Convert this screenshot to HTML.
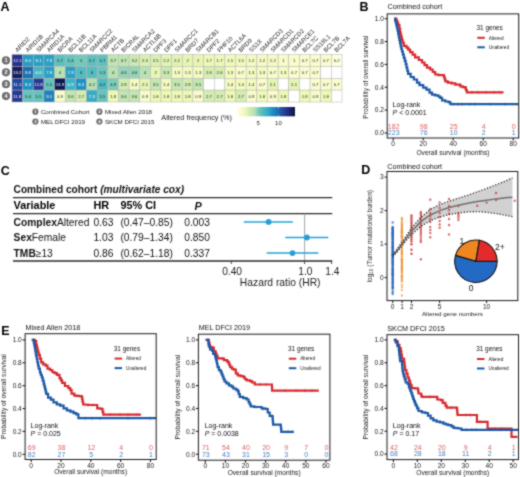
<!DOCTYPE html>
<html><head><meta charset="utf-8"><title>Figure</title>
<style>
html,body{margin:0;padding:0;background:#fff;}
svg{display:block;font-family:"Liberation Sans", sans-serif;}
</style></head>
<body>
<svg width="520" height="477" viewBox="0 0 520 477">
<defs><filter id="soft" color-interpolation-filters="sRGB" filterUnits="userSpaceOnUse" x="0" y="0" width="520" height="477"><feConvolveMatrix order="3" kernelMatrix="1 2 1 2 10 2 1 2 1" edgeMode="duplicate" preserveAlpha="false"/></filter></defs>
<rect width="520" height="477" fill="#fff"/>
<g filter="url(#soft)">
<rect width="520" height="477" fill="#fff"/>
<text x="0.50" y="10.80" font-size="12.5" font-weight="bold" fill="#000">A</text>
<text x="17.42" y="52.40" font-size="6.1" fill="#1e1e1e" transform="rotate(-45 17.42 52.40)">ARID2</text>
<text x="28.07" y="52.40" font-size="6.1" fill="#1e1e1e" transform="rotate(-45 28.07 52.40)">ARID1B</text>
<text x="38.71" y="52.40" font-size="6.1" fill="#1e1e1e" transform="rotate(-45 38.71 52.40)">SMARCA4</text>
<text x="49.36" y="52.40" font-size="6.1" fill="#1e1e1e" transform="rotate(-45 49.36 52.40)">ARID1A</text>
<text x="60.00" y="52.40" font-size="6.1" fill="#1e1e1e" transform="rotate(-45 60.00 52.40)">BICRA</text>
<text x="70.65" y="52.40" font-size="6.1" fill="#1e1e1e" transform="rotate(-45 70.65 52.40)">BCL11B</text>
<text x="81.29" y="52.40" font-size="6.1" fill="#1e1e1e" transform="rotate(-45 81.29 52.40)">BCL11A</text>
<text x="91.94" y="52.40" font-size="6.1" fill="#1e1e1e" transform="rotate(-45 91.94 52.40)">SMARCC2</text>
<text x="102.58" y="52.40" font-size="6.1" fill="#1e1e1e" transform="rotate(-45 102.58 52.40)">PBRM1</text>
<text x="113.23" y="52.40" font-size="6.1" fill="#1e1e1e" transform="rotate(-45 113.23 52.40)">ACTB</text>
<text x="123.87" y="52.40" font-size="6.1" fill="#1e1e1e" transform="rotate(-45 123.87 52.40)">BICRAL</text>
<text x="134.52" y="52.40" font-size="6.1" fill="#1e1e1e" transform="rotate(-45 134.52 52.40)">SMARCA2</text>
<text x="145.16" y="52.40" font-size="6.1" fill="#1e1e1e" transform="rotate(-45 145.16 52.40)">ACTL6B</text>
<text x="155.81" y="52.40" font-size="6.1" fill="#1e1e1e" transform="rotate(-45 155.81 52.40)">DPF3</text>
<text x="166.45" y="52.40" font-size="6.1" fill="#1e1e1e" transform="rotate(-45 166.45 52.40)">DPF1</text>
<text x="177.10" y="52.40" font-size="6.1" fill="#1e1e1e" transform="rotate(-45 177.10 52.40)">SMARCC1</text>
<text x="187.75" y="52.40" font-size="6.1" fill="#1e1e1e" transform="rotate(-45 187.75 52.40)">BRD7</text>
<text x="198.39" y="52.40" font-size="6.1" fill="#1e1e1e" transform="rotate(-45 198.39 52.40)">SMARCB1</text>
<text x="209.04" y="52.40" font-size="6.1" fill="#1e1e1e" transform="rotate(-45 209.04 52.40)">DPF2</text>
<text x="219.68" y="52.40" font-size="6.1" fill="#1e1e1e" transform="rotate(-45 219.68 52.40)">PHF10</text>
<text x="230.33" y="52.40" font-size="6.1" fill="#1e1e1e" transform="rotate(-45 230.33 52.40)">ACTL6A</text>
<text x="240.97" y="52.40" font-size="6.1" fill="#1e1e1e" transform="rotate(-45 240.97 52.40)">BRD9</text>
<text x="251.62" y="52.40" font-size="6.1" fill="#1e1e1e" transform="rotate(-45 251.62 52.40)">SS18</text>
<text x="262.26" y="52.40" font-size="6.1" fill="#1e1e1e" transform="rotate(-45 262.26 52.40)">SMARCD3</text>
<text x="272.91" y="52.40" font-size="6.1" fill="#1e1e1e" transform="rotate(-45 272.91 52.40)">SMARCD1</text>
<text x="283.55" y="52.40" font-size="6.1" fill="#1e1e1e" transform="rotate(-45 283.55 52.40)">SMARCD2</text>
<text x="294.20" y="52.40" font-size="6.1" fill="#1e1e1e" transform="rotate(-45 294.20 52.40)">SMARCE1</text>
<text x="304.84" y="52.40" font-size="6.1" fill="#1e1e1e" transform="rotate(-45 304.84 52.40)">BCL7C</text>
<text x="315.49" y="52.40" font-size="6.1" fill="#1e1e1e" transform="rotate(-45 315.49 52.40)">SS18L1</text>
<text x="326.13" y="52.40" font-size="6.1" fill="#1e1e1e" transform="rotate(-45 326.13 52.40)">BCL7B</text>
<text x="336.78" y="52.40" font-size="6.1" fill="#1e1e1e" transform="rotate(-45 336.78 52.40)">BCL7A</text>
<rect x="12.00" y="54.50" width="10.65" height="11.88" fill="#28318b" stroke="#b4b4b4" stroke-width="0.5"/>
<text x="17.32" y="61.99" font-size="4.3" text-anchor="middle" fill="#ffffff">12.1</text>
<rect x="22.65" y="54.50" width="10.65" height="11.88" fill="#2a9cc2" stroke="#b4b4b4" stroke-width="0.5"/>
<text x="27.97" y="61.99" font-size="4.3" text-anchor="middle" fill="#ffffff">9.4</text>
<rect x="33.29" y="54.50" width="10.65" height="11.88" fill="#2b9fc3" stroke="#b4b4b4" stroke-width="0.5"/>
<text x="38.61" y="61.99" font-size="4.3" text-anchor="middle" fill="#ffffff">9.1</text>
<rect x="43.94" y="54.50" width="10.65" height="11.88" fill="#2ba0c5" stroke="#b4b4b4" stroke-width="0.5"/>
<text x="49.26" y="61.99" font-size="4.3" text-anchor="middle" fill="#ffffff">7.9</text>
<rect x="54.58" y="54.50" width="10.65" height="11.88" fill="#5fc0be" stroke="#b4b4b4" stroke-width="0.5"/>
<text x="59.90" y="61.99" font-size="4.3" text-anchor="middle" fill="#1c2816">5.7</text>
<rect x="65.23" y="54.50" width="10.65" height="11.88" fill="#68c4bd" stroke="#b4b4b4" stroke-width="0.5"/>
<text x="70.55" y="61.99" font-size="4.3" text-anchor="middle" fill="#1c2816">5.4</text>
<rect x="75.87" y="54.50" width="10.65" height="11.88" fill="#74c9bb" stroke="#b4b4b4" stroke-width="0.5"/>
<text x="81.19" y="61.99" font-size="4.3" text-anchor="middle" fill="#1c2816">5</text>
<rect x="86.52" y="54.50" width="10.65" height="11.88" fill="#5fc0be" stroke="#b4b4b4" stroke-width="0.5"/>
<text x="91.84" y="61.99" font-size="4.3" text-anchor="middle" fill="#1c2816">5.7</text>
<rect x="97.16" y="54.50" width="10.65" height="11.88" fill="#5fc0be" stroke="#b4b4b4" stroke-width="0.5"/>
<text x="102.48" y="61.99" font-size="4.3" text-anchor="middle" fill="#1c2816">5.7</text>
<rect x="107.81" y="54.50" width="10.65" height="11.88" fill="#c0e4b3" stroke="#b4b4b4" stroke-width="0.5"/>
<text x="113.13" y="61.99" font-size="4.3" text-anchor="middle" fill="#1c2816">3.7</text>
<rect x="118.45" y="54.50" width="10.65" height="11.88" fill="#c0e4b3" stroke="#b4b4b4" stroke-width="0.5"/>
<text x="123.77" y="61.99" font-size="4.3" text-anchor="middle" fill="#1c2816">3.7</text>
<rect x="129.10" y="54.50" width="10.65" height="11.88" fill="#cae9b3" stroke="#b4b4b4" stroke-width="0.5"/>
<text x="134.42" y="61.99" font-size="4.3" text-anchor="middle" fill="#1c2816">3.2</text>
<rect x="139.74" y="54.50" width="10.65" height="11.88" fill="#daefb3" stroke="#b4b4b4" stroke-width="0.5"/>
<text x="145.06" y="61.99" font-size="4.3" text-anchor="middle" fill="#1c2816">2.5</text>
<rect x="150.39" y="54.50" width="10.65" height="11.88" fill="#daefb3" stroke="#b4b4b4" stroke-width="0.5"/>
<text x="155.71" y="61.99" font-size="4.3" text-anchor="middle" fill="#1c2816">2.5</text>
<rect x="161.03" y="54.50" width="10.65" height="11.88" fill="#e2f3b4" stroke="#b4b4b4" stroke-width="0.5"/>
<text x="166.35" y="61.99" font-size="4.3" text-anchor="middle" fill="#1c2816">2.2</text>
<rect x="171.68" y="54.50" width="10.65" height="11.88" fill="#e2f3b4" stroke="#b4b4b4" stroke-width="0.5"/>
<text x="177.00" y="61.99" font-size="4.3" text-anchor="middle" fill="#1c2816">2.2</text>
<rect x="182.32" y="54.50" width="10.65" height="11.88" fill="#e8f6b5" stroke="#b4b4b4" stroke-width="0.5"/>
<text x="187.65" y="61.99" font-size="4.3" text-anchor="middle" fill="#1c2816">2</text>
<rect x="192.97" y="54.50" width="10.65" height="11.88" fill="#e8f6b5" stroke="#b4b4b4" stroke-width="0.5"/>
<text x="198.29" y="61.99" font-size="4.3" text-anchor="middle" fill="#1c2816">2</text>
<rect x="203.61" y="54.50" width="10.65" height="11.88" fill="#eff8b8" stroke="#b4b4b4" stroke-width="0.5"/>
<text x="208.94" y="61.99" font-size="4.3" text-anchor="middle" fill="#1c2816">1.7</text>
<rect x="214.26" y="54.50" width="10.65" height="11.88" fill="#eff8b8" stroke="#b4b4b4" stroke-width="0.5"/>
<text x="219.58" y="61.99" font-size="4.3" text-anchor="middle" fill="#1c2816">1.7</text>
<rect x="224.90" y="54.50" width="10.65" height="11.88" fill="#f2f9bd" stroke="#b4b4b4" stroke-width="0.5"/>
<text x="230.23" y="61.99" font-size="4.3" text-anchor="middle" fill="#1c2816">1.5</text>
<rect x="235.55" y="54.50" width="10.65" height="11.88" fill="#f2f9bd" stroke="#b4b4b4" stroke-width="0.5"/>
<text x="240.87" y="61.99" font-size="4.3" text-anchor="middle" fill="#1c2816">1.5</text>
<rect x="246.19" y="54.50" width="10.65" height="11.88" fill="#f5fac5" stroke="#b4b4b4" stroke-width="0.5"/>
<text x="251.52" y="61.99" font-size="4.3" text-anchor="middle" fill="#1c2816">1.2</text>
<rect x="256.84" y="54.50" width="10.65" height="11.88" fill="#f5fac5" stroke="#b4b4b4" stroke-width="0.5"/>
<text x="262.16" y="61.99" font-size="4.3" text-anchor="middle" fill="#1c2816">1.2</text>
<rect x="267.48" y="54.50" width="10.65" height="11.88" fill="#f5fac5" stroke="#b4b4b4" stroke-width="0.5"/>
<text x="272.81" y="61.99" font-size="4.3" text-anchor="middle" fill="#1c2816">1.2</text>
<rect x="278.13" y="54.50" width="10.65" height="11.88" fill="#f8fbca" stroke="#b4b4b4" stroke-width="0.5"/>
<text x="283.45" y="61.99" font-size="4.3" text-anchor="middle" fill="#1c2816">1</text>
<rect x="288.77" y="54.50" width="10.65" height="11.88" fill="#f8fbca" stroke="#b4b4b4" stroke-width="0.5"/>
<text x="294.10" y="61.99" font-size="4.3" text-anchor="middle" fill="#1c2816">1</text>
<rect x="299.42" y="54.50" width="10.65" height="11.88" fill="#fafcd0" stroke="#b4b4b4" stroke-width="0.5"/>
<text x="304.74" y="61.99" font-size="4.3" text-anchor="middle" fill="#1c2816">0.7</text>
<rect x="310.06" y="54.50" width="10.65" height="11.88" fill="#fafcd0" stroke="#b4b4b4" stroke-width="0.5"/>
<text x="315.39" y="61.99" font-size="4.3" text-anchor="middle" fill="#1c2816">0.7</text>
<rect x="320.71" y="54.50" width="10.65" height="11.88" fill="#fafcd0" stroke="#b4b4b4" stroke-width="0.5"/>
<text x="326.03" y="61.99" font-size="4.3" text-anchor="middle" fill="#1c2816">0.7</text>
<rect x="331.35" y="54.50" width="10.65" height="11.88" fill="#fefedc" stroke="#b4b4b4" stroke-width="0.5"/>
<text x="336.68" y="61.99" font-size="4.3" text-anchor="middle" fill="#1c2816">0.2</text>
<rect x="12.00" y="66.38" width="10.65" height="11.88" fill="#18205c" stroke="#b4b4b4" stroke-width="0.5"/>
<text x="17.32" y="73.86" font-size="4.3" text-anchor="middle" fill="#ffffff">13.2</text>
<rect x="22.65" y="66.38" width="10.65" height="11.88" fill="#2170b2" stroke="#b4b4b4" stroke-width="0.5"/>
<text x="27.97" y="73.86" font-size="4.3" text-anchor="middle" fill="#ffffff">9.8</text>
<rect x="33.29" y="66.38" width="10.65" height="11.88" fill="#46b5c2" stroke="#b4b4b4" stroke-width="0.5"/>
<text x="38.61" y="73.86" font-size="4.3" text-anchor="middle" fill="#ffffff">6.6</text>
<rect x="43.94" y="66.38" width="10.65" height="11.88" fill="#2ba0c5" stroke="#b4b4b4" stroke-width="0.5"/>
<text x="49.26" y="73.86" font-size="4.3" text-anchor="middle" fill="#ffffff">7.9</text>
<rect x="54.58" y="66.38" width="10.65" height="11.88" fill="#b9e2b4" stroke="#b4b4b4" stroke-width="0.5"/>
<text x="59.90" y="73.86" font-size="4.3" text-anchor="middle" fill="#1c2816">4</text>
<rect x="65.23" y="66.38" width="10.65" height="11.88" fill="#2ba0c5" stroke="#b4b4b4" stroke-width="0.5"/>
<text x="70.55" y="73.86" font-size="4.3" text-anchor="middle" fill="#ffffff">7.9</text>
<rect x="75.87" y="66.38" width="10.65" height="11.88" fill="#55bcbf" stroke="#b4b4b4" stroke-width="0.5"/>
<text x="81.19" y="73.86" font-size="4.3" text-anchor="middle" fill="#1c2816">6</text>
<rect x="86.52" y="66.38" width="10.65" height="11.88" fill="#55bcbf" stroke="#b4b4b4" stroke-width="0.5"/>
<text x="91.84" y="73.86" font-size="4.3" text-anchor="middle" fill="#1c2816">6</text>
<rect x="97.16" y="66.38" width="10.65" height="11.88" fill="#6bc5bc" stroke="#b4b4b4" stroke-width="0.5"/>
<text x="102.48" y="73.86" font-size="4.3" text-anchor="middle" fill="#1c2816">5.3</text>
<rect x="107.81" y="66.38" width="10.65" height="11.88" fill="#b9e2b4" stroke="#b4b4b4" stroke-width="0.5"/>
<text x="113.13" y="73.86" font-size="4.3" text-anchor="middle" fill="#1c2816">4</text>
<rect x="118.45" y="66.38" width="10.65" height="11.88" fill="#95d4b8" stroke="#b4b4b4" stroke-width="0.5"/>
<text x="123.77" y="73.86" font-size="4.3" text-anchor="middle" fill="#1c2816">4.6</text>
<rect x="129.10" y="66.38" width="10.65" height="11.88" fill="#95d4b8" stroke="#b4b4b4" stroke-width="0.5"/>
<text x="134.42" y="73.86" font-size="4.3" text-anchor="middle" fill="#1c2816">4.6</text>
<rect x="139.74" y="66.38" width="10.65" height="11.88" fill="#b9e2b4" stroke="#b4b4b4" stroke-width="0.5"/>
<text x="145.06" y="73.86" font-size="4.3" text-anchor="middle" fill="#1c2816">4</text>
<rect x="150.39" y="66.38" width="10.65" height="11.88" fill="#e8f6b5" stroke="#b4b4b4" stroke-width="0.5"/>
<text x="155.71" y="73.86" font-size="4.3" text-anchor="middle" fill="#1c2816">2</text>
<rect x="161.03" y="66.38" width="10.65" height="11.88" fill="#c8e8b3" stroke="#b4b4b4" stroke-width="0.5"/>
<text x="166.35" y="73.86" font-size="4.3" text-anchor="middle" fill="#1c2816">3.3</text>
<rect x="171.68" y="66.38" width="10.65" height="11.88" fill="#f4fac2" stroke="#b4b4b4" stroke-width="0.5"/>
<text x="177.00" y="73.86" font-size="4.3" text-anchor="middle" fill="#1c2816">1.3</text>
<rect x="182.32" y="66.38" width="10.65" height="11.88" fill="#f4fac2" stroke="#b4b4b4" stroke-width="0.5"/>
<text x="187.65" y="73.86" font-size="4.3" text-anchor="middle" fill="#1c2816">1.3</text>
<rect x="192.97" y="66.38" width="10.65" height="11.88" fill="#f4fac2" stroke="#b4b4b4" stroke-width="0.5"/>
<text x="198.29" y="73.86" font-size="4.3" text-anchor="middle" fill="#1c2816">1.3</text>
<rect x="203.61" y="66.38" width="10.65" height="11.88" fill="#d7eeb2" stroke="#b4b4b4" stroke-width="0.5"/>
<text x="208.94" y="73.86" font-size="4.3" text-anchor="middle" fill="#1c2816">2.6</text>
<rect x="214.26" y="66.38" width="10.65" height="11.88" fill="#d7eeb2" stroke="#b4b4b4" stroke-width="0.5"/>
<text x="219.58" y="73.86" font-size="4.3" text-anchor="middle" fill="#1c2816">2.6</text>
<rect x="224.90" y="66.38" width="10.65" height="11.88" fill="#f4fac2" stroke="#b4b4b4" stroke-width="0.5"/>
<text x="230.23" y="73.86" font-size="4.3" text-anchor="middle" fill="#1c2816">1.3</text>
<rect x="235.55" y="66.38" width="10.65" height="11.88" fill="#fafcd0" stroke="#b4b4b4" stroke-width="0.5"/>
<text x="240.87" y="73.86" font-size="4.3" text-anchor="middle" fill="#1c2816">0.7</text>
<rect x="246.19" y="66.38" width="10.65" height="11.88" fill="#f4fac2" stroke="#b4b4b4" stroke-width="0.5"/>
<text x="251.52" y="73.86" font-size="4.3" text-anchor="middle" fill="#1c2816">1.3</text>
<rect x="256.84" y="66.38" width="10.65" height="11.88" fill="#f4fac2" stroke="#b4b4b4" stroke-width="0.5"/>
<text x="262.16" y="73.86" font-size="4.3" text-anchor="middle" fill="#1c2816">1.3</text>
<rect x="267.48" y="66.38" width="10.65" height="11.88" fill="#fafcd0" stroke="#b4b4b4" stroke-width="0.5"/>
<text x="272.81" y="73.86" font-size="4.3" text-anchor="middle" fill="#1c2816">0.7</text>
<rect x="278.13" y="66.38" width="10.65" height="11.88" fill="#f4fac2" stroke="#b4b4b4" stroke-width="0.5"/>
<text x="283.45" y="73.86" font-size="4.3" text-anchor="middle" fill="#1c2816">1.3</text>
<rect x="288.77" y="66.38" width="10.65" height="11.88" fill="#fafcd0" stroke="#b4b4b4" stroke-width="0.5"/>
<text x="294.10" y="73.86" font-size="4.3" text-anchor="middle" fill="#1c2816">0.7</text>
<rect x="299.42" y="66.38" width="10.65" height="11.88" fill="#fafcd0" stroke="#b4b4b4" stroke-width="0.5"/>
<text x="304.74" y="73.86" font-size="4.3" text-anchor="middle" fill="#1c2816">0.7</text>
<rect x="310.06" y="66.38" width="10.65" height="11.88" fill="#fafcd0" stroke="#b4b4b4" stroke-width="0.5"/>
<text x="315.39" y="73.86" font-size="4.3" text-anchor="middle" fill="#1c2816">0.7</text>
<rect x="320.71" y="66.38" width="10.65" height="11.88" fill="#ffffff" stroke="#b4b4b4" stroke-width="0.5"/>
<rect x="331.35" y="66.38" width="10.65" height="11.88" fill="#ffffff" stroke="#b4b4b4" stroke-width="0.5"/>
<rect x="12.00" y="78.25" width="10.65" height="11.88" fill="#25489e" stroke="#b4b4b4" stroke-width="0.5"/>
<text x="17.32" y="85.74" font-size="4.3" text-anchor="middle" fill="#ffffff">11.1</text>
<rect x="22.65" y="78.25" width="10.65" height="11.88" fill="#2092c2" stroke="#b4b4b4" stroke-width="0.5"/>
<text x="27.97" y="85.74" font-size="4.3" text-anchor="middle" fill="#ffffff">8.3</text>
<rect x="33.29" y="78.25" width="10.65" height="11.88" fill="#283792" stroke="#b4b4b4" stroke-width="0.5"/>
<text x="38.61" y="85.74" font-size="4.3" text-anchor="middle" fill="#ffffff">11.8</text>
<rect x="43.94" y="78.25" width="10.65" height="11.88" fill="#65c3bd" stroke="#b4b4b4" stroke-width="0.5"/>
<text x="49.26" y="85.74" font-size="4.3" text-anchor="middle" fill="#1c2816">5.5</text>
<rect x="54.58" y="78.25" width="10.65" height="11.88" fill="#0c1a4f" stroke="#b4b4b4" stroke-width="0.5"/>
<text x="59.90" y="85.74" font-size="4.3" text-anchor="middle" fill="#ffffff">13.9</text>
<rect x="65.23" y="78.25" width="10.65" height="11.88" fill="#3fb2c3" stroke="#b4b4b4" stroke-width="0.5"/>
<text x="70.55" y="85.74" font-size="4.3" text-anchor="middle" fill="#ffffff">6.9</text>
<rect x="75.87" y="78.25" width="10.65" height="11.88" fill="#2092c2" stroke="#b4b4b4" stroke-width="0.5"/>
<text x="81.19" y="85.74" font-size="4.3" text-anchor="middle" fill="#ffffff">8.3</text>
<rect x="86.52" y="78.25" width="10.65" height="11.88" fill="#b5e0b4" stroke="#b4b4b4" stroke-width="0.5"/>
<text x="91.84" y="85.74" font-size="4.3" text-anchor="middle" fill="#1c2816">4.2</text>
<rect x="97.16" y="78.25" width="10.65" height="11.88" fill="#50bac0" stroke="#b4b4b4" stroke-width="0.5"/>
<text x="102.48" y="85.74" font-size="4.3" text-anchor="middle" fill="#1c2816">6.2</text>
<rect x="107.81" y="78.25" width="10.65" height="11.88" fill="#7cccba" stroke="#b4b4b4" stroke-width="0.5"/>
<text x="113.13" y="85.74" font-size="4.3" text-anchor="middle" fill="#1c2816">4.9</text>
<rect x="118.45" y="78.25" width="10.65" height="11.88" fill="#d2ecb2" stroke="#b4b4b4" stroke-width="0.5"/>
<text x="123.77" y="85.74" font-size="4.3" text-anchor="middle" fill="#1c2816">2.8</text>
<rect x="129.10" y="78.25" width="10.65" height="11.88" fill="#f3f9c0" stroke="#b4b4b4" stroke-width="0.5"/>
<text x="134.42" y="85.74" font-size="4.3" text-anchor="middle" fill="#1c2816">1.4</text>
<rect x="139.74" y="78.25" width="10.65" height="11.88" fill="#e5f4b5" stroke="#b4b4b4" stroke-width="0.5"/>
<text x="145.06" y="85.74" font-size="4.3" text-anchor="middle" fill="#1c2816">2.1</text>
<rect x="150.39" y="78.25" width="10.65" height="11.88" fill="#c4e6b3" stroke="#b4b4b4" stroke-width="0.5"/>
<text x="155.71" y="85.74" font-size="4.3" text-anchor="middle" fill="#1c2816">3.5</text>
<rect x="161.03" y="78.25" width="10.65" height="11.88" fill="#f3f9c0" stroke="#b4b4b4" stroke-width="0.5"/>
<text x="166.35" y="85.74" font-size="4.3" text-anchor="middle" fill="#1c2816">1.4</text>
<rect x="171.68" y="78.25" width="10.65" height="11.88" fill="#c4e6b3" stroke="#b4b4b4" stroke-width="0.5"/>
<text x="177.00" y="85.74" font-size="4.3" text-anchor="middle" fill="#1c2816">3.5</text>
<rect x="182.32" y="78.25" width="10.65" height="11.88" fill="#d2ecb2" stroke="#b4b4b4" stroke-width="0.5"/>
<text x="187.65" y="85.74" font-size="4.3" text-anchor="middle" fill="#1c2816">2.8</text>
<rect x="192.97" y="78.25" width="10.65" height="11.88" fill="#c4e6b3" stroke="#b4b4b4" stroke-width="0.5"/>
<text x="198.29" y="85.74" font-size="4.3" text-anchor="middle" fill="#1c2816">3.5</text>
<rect x="203.61" y="78.25" width="10.65" height="11.88" fill="#ffffff" stroke="#b4b4b4" stroke-width="0.5"/>
<rect x="214.26" y="78.25" width="10.65" height="11.88" fill="#ffffff" stroke="#b4b4b4" stroke-width="0.5"/>
<rect x="224.90" y="78.25" width="10.65" height="11.88" fill="#f3f9c0" stroke="#b4b4b4" stroke-width="0.5"/>
<text x="230.23" y="85.74" font-size="4.3" text-anchor="middle" fill="#1c2816">1.4</text>
<rect x="235.55" y="78.25" width="10.65" height="11.88" fill="#f3f9c0" stroke="#b4b4b4" stroke-width="0.5"/>
<text x="240.87" y="85.74" font-size="4.3" text-anchor="middle" fill="#1c2816">1.4</text>
<rect x="246.19" y="78.25" width="10.65" height="11.88" fill="#f3f9c0" stroke="#b4b4b4" stroke-width="0.5"/>
<text x="251.52" y="85.74" font-size="4.3" text-anchor="middle" fill="#1c2816">1.4</text>
<rect x="256.84" y="78.25" width="10.65" height="11.88" fill="#fafcd0" stroke="#b4b4b4" stroke-width="0.5"/>
<text x="262.16" y="85.74" font-size="4.3" text-anchor="middle" fill="#1c2816">0.7</text>
<rect x="267.48" y="78.25" width="10.65" height="11.88" fill="#e5f4b5" stroke="#b4b4b4" stroke-width="0.5"/>
<text x="272.81" y="85.74" font-size="4.3" text-anchor="middle" fill="#1c2816">2.1</text>
<rect x="278.13" y="78.25" width="10.65" height="11.88" fill="#ffffff" stroke="#b4b4b4" stroke-width="0.5"/>
<rect x="288.77" y="78.25" width="10.65" height="11.88" fill="#e5f4b5" stroke="#b4b4b4" stroke-width="0.5"/>
<text x="294.10" y="85.74" font-size="4.3" text-anchor="middle" fill="#1c2816">2.1</text>
<rect x="299.42" y="78.25" width="10.65" height="11.88" fill="#ffffff" stroke="#b4b4b4" stroke-width="0.5"/>
<rect x="310.06" y="78.25" width="10.65" height="11.88" fill="#fafcd0" stroke="#b4b4b4" stroke-width="0.5"/>
<text x="315.39" y="85.74" font-size="4.3" text-anchor="middle" fill="#1c2816">0.7</text>
<rect x="320.71" y="78.25" width="10.65" height="11.88" fill="#fafcd0" stroke="#b4b4b4" stroke-width="0.5"/>
<text x="326.03" y="85.74" font-size="4.3" text-anchor="middle" fill="#1c2816">0.7</text>
<rect x="331.35" y="78.25" width="10.65" height="11.88" fill="#fafcd0" stroke="#b4b4b4" stroke-width="0.5"/>
<text x="336.68" y="85.74" font-size="4.3" text-anchor="middle" fill="#1c2816">0.7</text>
<rect x="12.00" y="90.12" width="10.65" height="11.88" fill="#283792" stroke="#b4b4b4" stroke-width="0.5"/>
<text x="17.32" y="97.61" font-size="4.3" text-anchor="middle" fill="#ffffff">11.8</text>
<rect x="22.65" y="90.12" width="10.65" height="11.88" fill="#68c4bd" stroke="#b4b4b4" stroke-width="0.5"/>
<text x="27.97" y="97.61" font-size="4.3" text-anchor="middle" fill="#1c2816">5.4</text>
<rect x="33.29" y="90.12" width="10.65" height="11.88" fill="#65c3bd" stroke="#b4b4b4" stroke-width="0.5"/>
<text x="38.61" y="97.61" font-size="4.3" text-anchor="middle" fill="#1c2816">5.5</text>
<rect x="43.94" y="90.12" width="10.65" height="11.88" fill="#1f82bb" stroke="#b4b4b4" stroke-width="0.5"/>
<text x="49.26" y="97.61" font-size="4.3" text-anchor="middle" fill="#ffffff">9.1</text>
<rect x="54.58" y="90.12" width="10.65" height="11.88" fill="#f9fbcc" stroke="#b4b4b4" stroke-width="0.5"/>
<text x="59.90" y="97.61" font-size="4.3" text-anchor="middle" fill="#1c2816">0.9</text>
<rect x="65.23" y="90.12" width="10.65" height="11.88" fill="#c2e5b3" stroke="#b4b4b4" stroke-width="0.5"/>
<text x="70.55" y="97.61" font-size="4.3" text-anchor="middle" fill="#1c2816">3.6</text>
<rect x="75.87" y="90.12" width="10.65" height="11.88" fill="#d4edb2" stroke="#b4b4b4" stroke-width="0.5"/>
<text x="81.19" y="97.61" font-size="4.3" text-anchor="middle" fill="#1c2816">2.7</text>
<rect x="86.52" y="90.12" width="10.65" height="11.88" fill="#37abc4" stroke="#b4b4b4" stroke-width="0.5"/>
<text x="91.84" y="97.61" font-size="4.3" text-anchor="middle" fill="#ffffff">7.3</text>
<rect x="97.16" y="90.12" width="10.65" height="11.88" fill="#65c3bd" stroke="#b4b4b4" stroke-width="0.5"/>
<text x="102.48" y="97.61" font-size="4.3" text-anchor="middle" fill="#1c2816">5.5</text>
<rect x="107.81" y="90.12" width="10.65" height="11.88" fill="#eef8b6" stroke="#b4b4b4" stroke-width="0.5"/>
<text x="113.13" y="97.61" font-size="4.3" text-anchor="middle" fill="#1c2816">1.8</text>
<rect x="118.45" y="90.12" width="10.65" height="11.88" fill="#c2e5b3" stroke="#b4b4b4" stroke-width="0.5"/>
<text x="123.77" y="97.61" font-size="4.3" text-anchor="middle" fill="#1c2816">3.6</text>
<rect x="129.10" y="90.12" width="10.65" height="11.88" fill="#c2e5b3" stroke="#b4b4b4" stroke-width="0.5"/>
<text x="134.42" y="97.61" font-size="4.3" text-anchor="middle" fill="#1c2816">3.6</text>
<rect x="139.74" y="90.12" width="10.65" height="11.88" fill="#f9fbcc" stroke="#b4b4b4" stroke-width="0.5"/>
<text x="145.06" y="97.61" font-size="4.3" text-anchor="middle" fill="#1c2816">0.9</text>
<rect x="150.39" y="90.12" width="10.65" height="11.88" fill="#eef8b6" stroke="#b4b4b4" stroke-width="0.5"/>
<text x="155.71" y="97.61" font-size="4.3" text-anchor="middle" fill="#1c2816">1.8</text>
<rect x="161.03" y="90.12" width="10.65" height="11.88" fill="#eef8b6" stroke="#b4b4b4" stroke-width="0.5"/>
<text x="166.35" y="97.61" font-size="4.3" text-anchor="middle" fill="#1c2816">1.8</text>
<rect x="171.68" y="90.12" width="10.65" height="11.88" fill="#eef8b6" stroke="#b4b4b4" stroke-width="0.5"/>
<text x="177.00" y="97.61" font-size="4.3" text-anchor="middle" fill="#1c2816">1.8</text>
<rect x="182.32" y="90.12" width="10.65" height="11.88" fill="#eef8b6" stroke="#b4b4b4" stroke-width="0.5"/>
<text x="187.65" y="97.61" font-size="4.3" text-anchor="middle" fill="#1c2816">1.8</text>
<rect x="192.97" y="90.12" width="10.65" height="11.88" fill="#f9fbcc" stroke="#b4b4b4" stroke-width="0.5"/>
<text x="198.29" y="97.61" font-size="4.3" text-anchor="middle" fill="#1c2816">0.9</text>
<rect x="203.61" y="90.12" width="10.65" height="11.88" fill="#d4edb2" stroke="#b4b4b4" stroke-width="0.5"/>
<text x="208.94" y="97.61" font-size="4.3" text-anchor="middle" fill="#1c2816">2.7</text>
<rect x="214.26" y="90.12" width="10.65" height="11.88" fill="#d4edb2" stroke="#b4b4b4" stroke-width="0.5"/>
<text x="219.58" y="97.61" font-size="4.3" text-anchor="middle" fill="#1c2816">2.7</text>
<rect x="224.90" y="90.12" width="10.65" height="11.88" fill="#eef8b6" stroke="#b4b4b4" stroke-width="0.5"/>
<text x="230.23" y="97.61" font-size="4.3" text-anchor="middle" fill="#1c2816">1.8</text>
<rect x="235.55" y="90.12" width="10.65" height="11.88" fill="#d4edb2" stroke="#b4b4b4" stroke-width="0.5"/>
<text x="240.87" y="97.61" font-size="4.3" text-anchor="middle" fill="#1c2816">2.7</text>
<rect x="246.19" y="90.12" width="10.65" height="11.88" fill="#f9fbcc" stroke="#b4b4b4" stroke-width="0.5"/>
<text x="251.52" y="97.61" font-size="4.3" text-anchor="middle" fill="#1c2816">0.9</text>
<rect x="256.84" y="90.12" width="10.65" height="11.88" fill="#eef8b6" stroke="#b4b4b4" stroke-width="0.5"/>
<text x="262.16" y="97.61" font-size="4.3" text-anchor="middle" fill="#1c2816">1.8</text>
<rect x="267.48" y="90.12" width="10.65" height="11.88" fill="#f9fbcc" stroke="#b4b4b4" stroke-width="0.5"/>
<text x="272.81" y="97.61" font-size="4.3" text-anchor="middle" fill="#1c2816">0.9</text>
<rect x="278.13" y="90.12" width="10.65" height="11.88" fill="#eef8b6" stroke="#b4b4b4" stroke-width="0.5"/>
<text x="283.45" y="97.61" font-size="4.3" text-anchor="middle" fill="#1c2816">1.8</text>
<rect x="288.77" y="90.12" width="10.65" height="11.88" fill="#ffffff" stroke="#b4b4b4" stroke-width="0.5"/>
<rect x="299.42" y="90.12" width="10.65" height="11.88" fill="#eef8b6" stroke="#b4b4b4" stroke-width="0.5"/>
<text x="304.74" y="97.61" font-size="4.3" text-anchor="middle" fill="#1c2816">1.8</text>
<rect x="310.06" y="90.12" width="10.65" height="11.88" fill="#f9fbcc" stroke="#b4b4b4" stroke-width="0.5"/>
<text x="315.39" y="97.61" font-size="4.3" text-anchor="middle" fill="#1c2816">0.9</text>
<rect x="320.71" y="90.12" width="10.65" height="11.88" fill="#eef8b6" stroke="#b4b4b4" stroke-width="0.5"/>
<text x="326.03" y="97.61" font-size="4.3" text-anchor="middle" fill="#1c2816">1.8</text>
<rect x="331.35" y="90.12" width="10.65" height="11.88" fill="#ffffff" stroke="#b4b4b4" stroke-width="0.5"/>
<circle cx="6" cy="60.44" r="4.1" fill="#6e6e6e"/>
<text x="6.00" y="62.44" font-size="5.6" font-weight="bold" text-anchor="middle" fill="#fff">1</text>
<circle cx="6" cy="72.31" r="4.1" fill="#6e6e6e"/>
<text x="6.00" y="74.31" font-size="5.6" font-weight="bold" text-anchor="middle" fill="#fff">2</text>
<circle cx="6" cy="84.19" r="4.1" fill="#6e6e6e"/>
<text x="6.00" y="86.19" font-size="5.6" font-weight="bold" text-anchor="middle" fill="#fff">3</text>
<circle cx="6" cy="96.06" r="4.1" fill="#6e6e6e"/>
<text x="6.00" y="98.06" font-size="5.6" font-weight="bold" text-anchor="middle" fill="#fff">4</text>
<circle cx="35.4" cy="111.7" r="3.1" fill="#6e6e6e"/>
<text x="35.40" y="113.20" font-size="4.3" font-weight="bold" text-anchor="middle" fill="#fff">1</text>
<text x="40.90" y="113.85" font-size="6.2" fill="#1a1a1a">Combined Cohort</text>
<circle cx="99.4" cy="111.7" r="3.1" fill="#6e6e6e"/>
<text x="99.40" y="113.20" font-size="4.3" font-weight="bold" text-anchor="middle" fill="#fff">2</text>
<text x="104.90" y="113.85" font-size="6.2" fill="#1a1a1a">Mixed Allen 2018</text>
<circle cx="35.4" cy="121.5" r="3.1" fill="#6e6e6e"/>
<text x="35.40" y="123.00" font-size="4.3" font-weight="bold" text-anchor="middle" fill="#fff">3</text>
<text x="40.90" y="123.65" font-size="6.2" fill="#1a1a1a">MEL DFCI 2019</text>
<circle cx="99.4" cy="121.5" r="3.1" fill="#6e6e6e"/>
<text x="99.40" y="123.00" font-size="4.3" font-weight="bold" text-anchor="middle" fill="#fff">4</text>
<text x="104.90" y="123.65" font-size="6.2" fill="#1a1a1a">SKCM DFCI 2015</text>
<text x="161.30" y="119.60" font-size="7.3" fill="#1a1a1a">Altered frequency (%)</text>
<defs><linearGradient id="cb" x1="0" x2="1" y1="0" y2="0"><stop offset="0.0000" stop-color="#ffffe0"/><stop offset="0.0638" stop-color="#f9fbcc"/><stop offset="0.1277" stop-color="#eef8b6"/><stop offset="0.1915" stop-color="#d4edb2"/><stop offset="0.2553" stop-color="#c2e5b3"/><stop offset="0.2979" stop-color="#b5e0b4"/><stop offset="0.3546" stop-color="#74c9bb"/><stop offset="0.3901" stop-color="#65c3bd"/><stop offset="0.4255" stop-color="#55bcbf"/><stop offset="0.4894" stop-color="#3fb2c3"/><stop offset="0.5603" stop-color="#2ba0c5"/><stop offset="0.5887" stop-color="#2092c2"/><stop offset="0.6454" stop-color="#1f82bb"/><stop offset="0.6950" stop-color="#2170b2"/><stop offset="0.7872" stop-color="#25489e"/><stop offset="0.8511" stop-color="#29328f"/><stop offset="0.9362" stop-color="#18205c"/><stop offset="0.9858" stop-color="#0c1a4f"/></linearGradient></defs>
<rect x="238" y="107" width="57" height="9.3" fill="url(#cb)"/>
<line x1="258.21" y1="107" x2="258.21" y2="108.5" stroke="#fff" stroke-width="0.5"/>
<line x1="258.21" y1="114.8" x2="258.21" y2="116.3" stroke="#fff" stroke-width="0.5"/>
<text x="258.21" y="125.20" font-size="6" text-anchor="middle" fill="#1a1a1a">5</text>
<line x1="278.43" y1="107" x2="278.43" y2="108.5" stroke="#fff" stroke-width="0.5"/>
<line x1="278.43" y1="114.8" x2="278.43" y2="116.3" stroke="#fff" stroke-width="0.5"/>
<text x="278.43" y="125.20" font-size="6" text-anchor="middle" fill="#1a1a1a">10</text>
<text x="359.40" y="11.40" font-size="12.5" font-weight="bold" fill="#000">B</text>
<text x="387.50" y="9.10" font-size="7.2" fill="#111">Combined cohort</text>
<clipPath id="c387_13"><rect x="387.2" y="13.9" width="131.50000000000006" height="124.1"/></clipPath>
<path d="M394.40,18.50H396.30V20.70H397.25V22.90H398.20V25.10H399.40V28.80H400.10V32.60H400.70V35.10H401.30V37.60H401.95V40.15H402.60V42.70H403.80V45.80H406.40V47.70H408.20V49.60H410.10V52.10H412.60V54.60H415.10V57.30H418.80V60.00H422.00V62.50H424.50V65.10H427.00V67.60H430.20V69.50H432.70V72.00H435.20V74.50H438.30V75.10H442.10V75.10H444.00V77.00H444.65V79.20H445.30V81.40H447.80V82.70H451.50V83.30H455.30V84.60H458.50V84.60H460.30V86.40H462.65V87.05H465.00V87.70H465.90V90.00H466.80V92.30H503.50V92.30" fill="none" stroke="#d7282d" stroke-width="2.2" stroke-linejoin="miter" clip-path="url(#c387_13)"/>
<line x1="472.00" y1="90.90" x2="472.00" y2="93.70" stroke="#d7282d" stroke-width="0.8" clip-path="url(#c387_13)"/>
<line x1="478.00" y1="90.90" x2="478.00" y2="93.70" stroke="#d7282d" stroke-width="0.8" clip-path="url(#c387_13)"/>
<line x1="486.00" y1="90.90" x2="486.00" y2="93.70" stroke="#d7282d" stroke-width="0.8" clip-path="url(#c387_13)"/>
<line x1="494.00" y1="90.90" x2="494.00" y2="93.70" stroke="#d7282d" stroke-width="0.8" clip-path="url(#c387_13)"/>
<line x1="500.00" y1="90.90" x2="500.00" y2="93.70" stroke="#d7282d" stroke-width="0.8" clip-path="url(#c387_13)"/>
<path d="M394.40,18.50H395.05V20.50H395.70V22.50H396.30V25.05H396.90V27.60H397.55V30.75H398.20V33.90H398.80V37.05H399.40V40.20H400.05V43.30H400.70V46.40H401.35V48.95H402.00V51.50H402.90V54.65H403.80V57.80H404.75V60.95H405.70V64.10H406.50V67.60H407.30V70.75H408.10V73.90H410.70V77.00H413.80V79.50H417.00V82.70H419.50V85.20H423.20V87.70H426.40V89.60H429.50V92.70H432.00V94.60H435.20V95.30H438.30V96.50H440.20V97.80H442.10V100.30H445.30V101.50H448.40V102.20H450.30V104.10H518.70V104.10" fill="none" stroke="#1b58a4" stroke-width="2.2" stroke-linejoin="miter" clip-path="url(#c387_13)"/>
<line x1="453.00" y1="102.70" x2="453.00" y2="105.50" stroke="#1b58a4" stroke-width="0.8" clip-path="url(#c387_13)"/>
<line x1="458.00" y1="102.70" x2="458.00" y2="105.50" stroke="#1b58a4" stroke-width="0.8" clip-path="url(#c387_13)"/>
<line x1="462.00" y1="102.70" x2="462.00" y2="105.50" stroke="#1b58a4" stroke-width="0.8" clip-path="url(#c387_13)"/>
<line x1="470.00" y1="102.70" x2="470.00" y2="105.50" stroke="#1b58a4" stroke-width="0.8" clip-path="url(#c387_13)"/>
<line x1="475.00" y1="102.70" x2="475.00" y2="105.50" stroke="#1b58a4" stroke-width="0.8" clip-path="url(#c387_13)"/>
<line x1="490.00" y1="102.70" x2="490.00" y2="105.50" stroke="#1b58a4" stroke-width="0.8" clip-path="url(#c387_13)"/>
<line x1="505.00" y1="102.70" x2="505.00" y2="105.50" stroke="#1b58a4" stroke-width="0.8" clip-path="url(#c387_13)"/>
<rect x="387.2" y="13.9" width="131.50000000000006" height="124.1" fill="none" stroke="#1a1a1a" stroke-width="1"/>
<line x1="384.7" y1="133.00" x2="387.2" y2="133.00" stroke="#1a1a1a" stroke-width="1.1"/>
<text x="383.90" y="135.30" font-size="6.6" text-anchor="end" fill="#1a1a1a">0.0</text>
<line x1="384.7" y1="110.14" x2="387.2" y2="110.14" stroke="#1a1a1a" stroke-width="1.1"/>
<text x="383.90" y="112.44" font-size="6.6" text-anchor="end" fill="#1a1a1a">0.2</text>
<line x1="384.7" y1="87.28" x2="387.2" y2="87.28" stroke="#1a1a1a" stroke-width="1.1"/>
<text x="383.90" y="89.58" font-size="6.6" text-anchor="end" fill="#1a1a1a">0.4</text>
<line x1="384.7" y1="64.42" x2="387.2" y2="64.42" stroke="#1a1a1a" stroke-width="1.1"/>
<text x="383.90" y="66.72" font-size="6.6" text-anchor="end" fill="#1a1a1a">0.6</text>
<line x1="384.7" y1="41.56" x2="387.2" y2="41.56" stroke="#1a1a1a" stroke-width="1.1"/>
<text x="383.90" y="43.86" font-size="6.6" text-anchor="end" fill="#1a1a1a">0.8</text>
<line x1="384.7" y1="18.70" x2="387.2" y2="18.70" stroke="#1a1a1a" stroke-width="1.1"/>
<text x="383.90" y="21.00" font-size="6.6" text-anchor="end" fill="#1a1a1a">1.0</text>
<line x1="393.20" y1="138.0" x2="393.20" y2="140.5" stroke="#1a1a1a" stroke-width="1.1"/>
<text x="393.20" y="146.00" font-size="6.6" text-anchor="middle" fill="#1a1a1a">0</text>
<line x1="423.20" y1="138.0" x2="423.20" y2="140.5" stroke="#1a1a1a" stroke-width="1.1"/>
<text x="423.20" y="146.00" font-size="6.6" text-anchor="middle" fill="#1a1a1a">20</text>
<line x1="453.20" y1="138.0" x2="453.20" y2="140.5" stroke="#1a1a1a" stroke-width="1.1"/>
<text x="453.20" y="146.00" font-size="6.6" text-anchor="middle" fill="#1a1a1a">40</text>
<line x1="483.20" y1="138.0" x2="483.20" y2="140.5" stroke="#1a1a1a" stroke-width="1.1"/>
<text x="483.20" y="146.00" font-size="6.6" text-anchor="middle" fill="#1a1a1a">60</text>
<line x1="513.20" y1="138.0" x2="513.20" y2="140.5" stroke="#1a1a1a" stroke-width="1.1"/>
<text x="513.20" y="146.00" font-size="6.6" text-anchor="middle" fill="#1a1a1a">80</text>
<text x="452.95" y="155.00" font-size="6.6" text-anchor="middle" fill="#1a1a1a">Overall survival (months)</text>
<text x="368.30" y="77.15" font-size="6.55" text-anchor="middle" fill="#1a1a1a" transform="rotate(-90 368.30 77.15)">Probability of overall survival</text>
<text x="476.50" y="29.80" font-size="6.4" fill="#111">31 genes</text>
<line x1="477.3" y1="37.8" x2="484.8" y2="37.8" stroke="#d7282d" stroke-width="2"/>
<line x1="477.3" y1="47.3" x2="484.8" y2="47.3" stroke="#1b58a4" stroke-width="2"/>
<text x="488.70" y="39.50" font-size="4.7" fill="#1a1a1a">Altered</text>
<text x="488.70" y="49.00" font-size="4.7" fill="#1a1a1a">Unaltered</text>
<text x="392.60" y="106.80" font-size="7" fill="#111">Log-rank</text>
<text x="392.60" y="115.00" font-size="7" fill="#111"><tspan font-style="italic">P</tspan> &lt; 0.0001</text>
<text x="393.70" y="128.50" font-size="7" text-anchor="middle" fill="#dc5f5a">182</text>
<text x="393.70" y="135.30" font-size="7" text-anchor="middle" fill="#4680c2">223</text>
<text x="423.70" y="128.50" font-size="7" text-anchor="middle" fill="#dc5f5a">98</text>
<text x="423.70" y="135.30" font-size="7" text-anchor="middle" fill="#4680c2">76</text>
<text x="453.70" y="128.50" font-size="7" text-anchor="middle" fill="#dc5f5a">25</text>
<text x="453.70" y="135.30" font-size="7" text-anchor="middle" fill="#4680c2">10</text>
<text x="483.70" y="128.50" font-size="7" text-anchor="middle" fill="#dc5f5a">4</text>
<text x="483.70" y="135.30" font-size="7" text-anchor="middle" fill="#4680c2">2</text>
<text x="513.70" y="128.50" font-size="7" text-anchor="middle" fill="#dc5f5a">0</text>
<text x="513.70" y="135.30" font-size="7" text-anchor="middle" fill="#4680c2">1</text>
<text x="0.80" y="174.50" font-size="12.5" font-weight="bold" fill="#000">C</text>
<text x="13.6" y="193.0" font-size="10.15" font-weight="bold" fill="#111">Combined cohort <tspan font-style="italic">(multivariate cox)</tspan></text>
<line x1="13" y1="197.6" x2="332.3" y2="197.6" stroke="#2a2a2a" stroke-width="1.3"/>
<text x="13.60" y="209.40" font-size="10.9" font-weight="bold" fill="#000">Variable</text>
<text x="93.40" y="209.40" font-size="10.9" font-weight="bold" fill="#000">HR</text>
<text x="120.40" y="209.40" font-size="10.9" font-weight="bold" fill="#000">95% CI</text>
<text x="194.40" y="209.60" font-size="10.9" font-weight="bold" font-style="italic" fill="#111">P</text>
<line x1="13" y1="213.6" x2="332.3" y2="213.6" stroke="#2a2a2a" stroke-width="1.3"/>
<line x1="304.60" y1="213.6" x2="304.60" y2="261" stroke="#9a9a9a" stroke-width="0.9"/>
<text x="13.6" y="225.50" font-size="10.25" fill="#111"><tspan font-weight="bold">Complex</tspan>Altered</text>
<text x="93.40" y="225.50" font-size="10.25" fill="#111">0.63</text>
<text x="120.40" y="225.50" font-size="10.25" fill="#111">(0.47–0.85)</text>
<text x="184.20" y="225.50" font-size="10.25" fill="#111">0.003</text>
<line x1="243.80" y1="221.90" x2="292.90" y2="221.90" stroke="#25a0d6" stroke-width="1.5"/>
<circle cx="268.60" cy="221.90" r="2.9" fill="#25a0d6"/>
<text x="13.6" y="241.10" font-size="10.25" fill="#111"><tspan font-weight="bold">Sex</tspan>Female</text>
<text x="93.40" y="241.10" font-size="10.25" fill="#111">1.03</text>
<text x="120.40" y="241.10" font-size="10.25" fill="#111">(0.79–1.34)</text>
<text x="184.20" y="241.10" font-size="10.25" fill="#111">0.850</text>
<line x1="285.20" y1="237.50" x2="328.30" y2="237.50" stroke="#25a0d6" stroke-width="1.5"/>
<circle cx="306.90" cy="237.50" r="2.9" fill="#25a0d6"/>
<text x="13.6" y="256.70" font-size="10.25" fill="#111"><tspan font-weight="bold">TMB</tspan>≥13</text>
<text x="93.40" y="256.70" font-size="10.25" fill="#111">0.86</text>
<text x="120.40" y="256.70" font-size="10.25" fill="#111">(0.62–1.18)</text>
<text x="184.20" y="256.70" font-size="10.25" fill="#111">0.337</text>
<line x1="266.60" y1="253.10" x2="318.40" y2="253.10" stroke="#25a0d6" stroke-width="1.5"/>
<circle cx="292.50" cy="253.10" r="2.9" fill="#25a0d6"/>
<line x1="13" y1="261" x2="332.3" y2="261" stroke="#2a2a2a" stroke-width="1.3"/>
<line x1="231.30" y1="261" x2="231.30" y2="264" stroke="#444" stroke-width="1"/>
<text x="232.10" y="274.60" font-size="10.2" text-anchor="middle" fill="#1a1a1a">0.40</text>
<line x1="304.60" y1="261" x2="304.60" y2="264" stroke="#444" stroke-width="1"/>
<text x="305.40" y="274.60" font-size="10.2" text-anchor="middle" fill="#1a1a1a">1.0</text>
<line x1="331.52" y1="261" x2="331.52" y2="264" stroke="#444" stroke-width="1"/>
<text x="332.32" y="274.60" font-size="10.2" text-anchor="middle" fill="#1a1a1a">1.4</text>
<text x="280.20" y="286.30" font-size="10.3" text-anchor="middle" fill="#1a1a1a">Hazard ratio (HR)</text>
<text x="361.20" y="173.80" font-size="12.5" font-weight="bold" fill="#000">D</text>
<text x="387.30" y="168.50" font-size="7.2" fill="#111">Combined cohort</text>
<polygon points="392.70,255.16 397.39,248.46 402.09,242.09 406.78,235.06 411.48,228.02 420.87,217.30 430.26,209.60 439.65,204.57 449.04,201.22 458.43,198.21 467.82,195.19 477.21,191.84 486.60,188.49 495.99,184.81 505.38,181.12 512.42,177.77 512.42,216.63 505.38,215.29 495.99,213.62 486.60,212.28 477.21,211.61 467.82,211.94 458.43,212.95 449.04,214.62 439.65,216.97 430.26,220.65 420.87,226.35 411.48,234.72 406.78,239.75 402.09,245.78 397.39,251.81 392.70,256.50" fill="#b8b8b8" fill-opacity="0.65"/>
<circle cx="392.70" cy="227.00" r="1.2" fill="#2463bd" fill-opacity="0.8"/>
<circle cx="392.70" cy="227.76" r="1.2" fill="#2463bd" fill-opacity="0.8"/>
<circle cx="392.70" cy="228.38" r="1.2" fill="#2463bd" fill-opacity="0.8"/>
<circle cx="392.70" cy="229.40" r="1.2" fill="#2463bd" fill-opacity="0.8"/>
<circle cx="392.70" cy="229.96" r="1.2" fill="#2463bd" fill-opacity="0.8"/>
<circle cx="392.70" cy="230.89" r="1.2" fill="#2463bd" fill-opacity="0.8"/>
<circle cx="392.70" cy="231.68" r="1.2" fill="#2463bd" fill-opacity="0.8"/>
<circle cx="392.70" cy="232.23" r="1.2" fill="#2463bd" fill-opacity="0.8"/>
<circle cx="392.70" cy="233.13" r="1.2" fill="#2463bd" fill-opacity="0.8"/>
<circle cx="392.70" cy="233.66" r="1.2" fill="#2463bd" fill-opacity="0.8"/>
<circle cx="392.70" cy="234.51" r="1.2" fill="#2463bd" fill-opacity="0.8"/>
<circle cx="392.70" cy="235.06" r="1.2" fill="#2463bd" fill-opacity="0.8"/>
<circle cx="392.70" cy="235.64" r="1.2" fill="#2463bd" fill-opacity="0.8"/>
<circle cx="392.70" cy="236.48" r="1.2" fill="#2463bd" fill-opacity="0.8"/>
<circle cx="392.70" cy="237.64" r="1.2" fill="#2463bd" fill-opacity="0.8"/>
<circle cx="392.70" cy="238.24" r="1.2" fill="#2463bd" fill-opacity="0.8"/>
<circle cx="392.70" cy="238.92" r="1.2" fill="#2463bd" fill-opacity="0.8"/>
<circle cx="392.70" cy="239.92" r="1.2" fill="#2463bd" fill-opacity="0.8"/>
<circle cx="392.70" cy="241.18" r="1.2" fill="#2463bd" fill-opacity="0.8"/>
<circle cx="392.70" cy="242.14" r="1.2" fill="#2463bd" fill-opacity="0.8"/>
<circle cx="392.70" cy="242.96" r="1.2" fill="#2463bd" fill-opacity="0.8"/>
<circle cx="392.70" cy="244.24" r="1.2" fill="#2463bd" fill-opacity="0.8"/>
<circle cx="392.70" cy="244.77" r="1.2" fill="#2463bd" fill-opacity="0.8"/>
<circle cx="392.70" cy="245.96" r="1.2" fill="#2463bd" fill-opacity="0.8"/>
<circle cx="392.70" cy="246.69" r="1.2" fill="#2463bd" fill-opacity="0.8"/>
<circle cx="392.70" cy="247.31" r="1.2" fill="#2463bd" fill-opacity="0.8"/>
<circle cx="392.70" cy="247.90" r="1.2" fill="#2463bd" fill-opacity="0.8"/>
<circle cx="392.70" cy="248.65" r="1.2" fill="#2463bd" fill-opacity="0.8"/>
<circle cx="392.70" cy="249.80" r="1.2" fill="#2463bd" fill-opacity="0.8"/>
<circle cx="392.70" cy="250.45" r="1.2" fill="#2463bd" fill-opacity="0.8"/>
<circle cx="392.70" cy="251.41" r="1.2" fill="#2463bd" fill-opacity="0.8"/>
<circle cx="392.70" cy="252.42" r="1.2" fill="#2463bd" fill-opacity="0.8"/>
<circle cx="392.70" cy="253.22" r="1.2" fill="#2463bd" fill-opacity="0.8"/>
<circle cx="392.70" cy="254.16" r="1.2" fill="#2463bd" fill-opacity="0.8"/>
<circle cx="392.70" cy="254.71" r="1.2" fill="#2463bd" fill-opacity="0.8"/>
<circle cx="392.70" cy="255.26" r="1.2" fill="#2463bd" fill-opacity="0.8"/>
<circle cx="392.70" cy="255.92" r="1.2" fill="#2463bd" fill-opacity="0.8"/>
<circle cx="392.70" cy="256.97" r="1.2" fill="#2463bd" fill-opacity="0.8"/>
<circle cx="392.70" cy="257.81" r="1.2" fill="#2463bd" fill-opacity="0.8"/>
<circle cx="392.70" cy="258.56" r="1.2" fill="#2463bd" fill-opacity="0.8"/>
<circle cx="392.70" cy="259.53" r="1.2" fill="#2463bd" fill-opacity="0.8"/>
<circle cx="392.70" cy="260.39" r="1.2" fill="#2463bd" fill-opacity="0.8"/>
<circle cx="392.70" cy="261.13" r="1.2" fill="#2463bd" fill-opacity="0.8"/>
<circle cx="392.70" cy="262.27" r="1.2" fill="#2463bd" fill-opacity="0.8"/>
<circle cx="392.70" cy="263.32" r="1.2" fill="#2463bd" fill-opacity="0.8"/>
<circle cx="392.70" cy="264.02" r="1.2" fill="#2463bd" fill-opacity="0.8"/>
<circle cx="392.70" cy="264.98" r="1.2" fill="#2463bd" fill-opacity="0.8"/>
<circle cx="392.70" cy="265.90" r="1.2" fill="#2463bd" fill-opacity="0.8"/>
<circle cx="392.70" cy="267.10" r="1.2" fill="#2463bd" fill-opacity="0.8"/>
<circle cx="392.70" cy="268.18" r="1.2" fill="#2463bd" fill-opacity="0.8"/>
<circle cx="392.70" cy="268.91" r="1.2" fill="#2463bd" fill-opacity="0.8"/>
<circle cx="392.70" cy="270.20" r="1.2" fill="#2463bd" fill-opacity="0.8"/>
<circle cx="392.70" cy="270.79" r="1.2" fill="#2463bd" fill-opacity="0.8"/>
<circle cx="392.70" cy="271.63" r="1.2" fill="#2463bd" fill-opacity="0.8"/>
<circle cx="392.70" cy="272.73" r="1.2" fill="#2463bd" fill-opacity="0.8"/>
<circle cx="392.70" cy="273.35" r="1.2" fill="#2463bd" fill-opacity="0.8"/>
<circle cx="392.70" cy="274.24" r="1.2" fill="#2463bd" fill-opacity="0.8"/>
<circle cx="392.70" cy="274.78" r="1.2" fill="#2463bd" fill-opacity="0.8"/>
<circle cx="392.70" cy="275.81" r="1.2" fill="#2463bd" fill-opacity="0.8"/>
<circle cx="392.70" cy="276.92" r="1.2" fill="#2463bd" fill-opacity="0.8"/>
<circle cx="392.70" cy="277.88" r="1.2" fill="#2463bd" fill-opacity="0.8"/>
<circle cx="392.70" cy="279.08" r="1.2" fill="#2463bd" fill-opacity="0.8"/>
<circle cx="392.70" cy="279.83" r="1.2" fill="#2463bd" fill-opacity="0.8"/>
<circle cx="392.70" cy="280.89" r="1.2" fill="#2463bd" fill-opacity="0.8"/>
<circle cx="392.70" cy="281.86" r="1.2" fill="#2463bd" fill-opacity="0.8"/>
<circle cx="392.70" cy="282.83" r="1.2" fill="#2463bd" fill-opacity="0.8"/>
<circle cx="392.70" cy="283.69" r="1.2" fill="#2463bd" fill-opacity="0.8"/>
<circle cx="392.70" cy="284.86" r="1.2" fill="#2463bd" fill-opacity="0.8"/>
<circle cx="392.70" cy="286.12" r="1.2" fill="#2463bd" fill-opacity="0.8"/>
<circle cx="392.70" cy="287.00" r="1.2" fill="#2463bd" fill-opacity="0.8"/>
<circle cx="392.70" cy="288.03" r="1.2" fill="#2463bd" fill-opacity="0.8"/>
<circle cx="392.70" cy="288.58" r="1.2" fill="#2463bd" fill-opacity="0.8"/>
<circle cx="392.70" cy="222.50" r="1.2" fill="#2463bd" fill-opacity="0.7"/>
<circle cx="392.70" cy="291.00" r="1.2" fill="#2463bd" fill-opacity="0.7"/>
<circle cx="392.70" cy="292.60" r="1.2" fill="#2463bd" fill-opacity="0.7"/>
<circle cx="392.70" cy="294.00" r="1.2" fill="#2463bd" fill-opacity="0.7"/>
<circle cx="401.89" cy="218.00" r="1.2" fill="#ee8a26" fill-opacity="0.75"/>
<circle cx="401.89" cy="219.71" r="1.2" fill="#ee8a26" fill-opacity="0.75"/>
<circle cx="401.89" cy="221.90" r="1.2" fill="#ee8a26" fill-opacity="0.75"/>
<circle cx="401.89" cy="223.85" r="1.2" fill="#ee8a26" fill-opacity="0.75"/>
<circle cx="401.89" cy="225.05" r="1.2" fill="#ee8a26" fill-opacity="0.75"/>
<circle cx="401.89" cy="226.39" r="1.2" fill="#ee8a26" fill-opacity="0.75"/>
<circle cx="401.89" cy="228.12" r="1.2" fill="#ee8a26" fill-opacity="0.75"/>
<circle cx="401.89" cy="228.95" r="1.2" fill="#ee8a26" fill-opacity="0.75"/>
<circle cx="401.89" cy="230.40" r="1.2" fill="#ee8a26" fill-opacity="0.75"/>
<circle cx="401.89" cy="231.43" r="1.2" fill="#ee8a26" fill-opacity="0.75"/>
<circle cx="401.89" cy="232.40" r="1.2" fill="#ee8a26" fill-opacity="0.75"/>
<circle cx="401.89" cy="233.28" r="1.2" fill="#ee8a26" fill-opacity="0.75"/>
<circle cx="401.89" cy="235.16" r="1.2" fill="#ee8a26" fill-opacity="0.75"/>
<circle cx="401.89" cy="236.14" r="1.2" fill="#ee8a26" fill-opacity="0.75"/>
<circle cx="401.89" cy="237.28" r="1.2" fill="#ee8a26" fill-opacity="0.75"/>
<circle cx="401.89" cy="238.63" r="1.2" fill="#ee8a26" fill-opacity="0.75"/>
<circle cx="401.89" cy="240.65" r="1.2" fill="#ee8a26" fill-opacity="0.75"/>
<circle cx="401.89" cy="241.56" r="1.2" fill="#ee8a26" fill-opacity="0.75"/>
<circle cx="401.89" cy="242.99" r="1.2" fill="#ee8a26" fill-opacity="0.75"/>
<circle cx="401.89" cy="244.56" r="1.2" fill="#ee8a26" fill-opacity="0.75"/>
<circle cx="401.89" cy="246.60" r="1.2" fill="#ee8a26" fill-opacity="0.75"/>
<circle cx="401.89" cy="248.55" r="1.2" fill="#ee8a26" fill-opacity="0.75"/>
<circle cx="401.89" cy="250.56" r="1.2" fill="#ee8a26" fill-opacity="0.75"/>
<circle cx="401.89" cy="251.75" r="1.2" fill="#ee8a26" fill-opacity="0.75"/>
<circle cx="401.89" cy="253.13" r="1.2" fill="#ee8a26" fill-opacity="0.75"/>
<circle cx="401.89" cy="254.43" r="1.2" fill="#ee8a26" fill-opacity="0.75"/>
<circle cx="401.89" cy="256.47" r="1.2" fill="#ee8a26" fill-opacity="0.75"/>
<circle cx="401.89" cy="258.61" r="1.2" fill="#ee8a26" fill-opacity="0.75"/>
<circle cx="401.89" cy="259.62" r="1.2" fill="#ee8a26" fill-opacity="0.75"/>
<circle cx="401.89" cy="260.67" r="1.2" fill="#ee8a26" fill-opacity="0.75"/>
<circle cx="401.89" cy="261.79" r="1.2" fill="#ee8a26" fill-opacity="0.75"/>
<circle cx="401.89" cy="262.92" r="1.2" fill="#ee8a26" fill-opacity="0.75"/>
<circle cx="401.89" cy="264.40" r="1.2" fill="#ee8a26" fill-opacity="0.75"/>
<circle cx="401.89" cy="266.02" r="1.2" fill="#ee8a26" fill-opacity="0.75"/>
<circle cx="401.89" cy="267.19" r="1.2" fill="#ee8a26" fill-opacity="0.75"/>
<circle cx="401.89" cy="268.00" r="1.2" fill="#ee8a26" fill-opacity="0.75"/>
<circle cx="401.89" cy="269.38" r="1.2" fill="#ee8a26" fill-opacity="0.75"/>
<circle cx="401.89" cy="270.70" r="1.2" fill="#ee8a26" fill-opacity="0.75"/>
<circle cx="401.89" cy="272.29" r="1.2" fill="#ee8a26" fill-opacity="0.75"/>
<circle cx="401.89" cy="274.43" r="1.2" fill="#ee8a26" fill-opacity="0.75"/>
<circle cx="401.89" cy="276.19" r="1.2" fill="#ee8a26" fill-opacity="0.75"/>
<circle cx="401.89" cy="277.71" r="1.2" fill="#ee8a26" fill-opacity="0.75"/>
<circle cx="401.89" cy="279.38" r="1.2" fill="#ee8a26" fill-opacity="0.75"/>
<circle cx="401.89" cy="281.13" r="1.2" fill="#ee8a26" fill-opacity="0.75"/>
<circle cx="401.89" cy="284.50" r="1.2" fill="#ee8a26" fill-opacity="0.6"/>
<circle cx="401.89" cy="287.00" r="1.2" fill="#ee8a26" fill-opacity="0.6"/>
<circle cx="401.89" cy="290.00" r="1.2" fill="#ee8a26" fill-opacity="0.6"/>
<circle cx="401.89" cy="295.50" r="1.2" fill="#ee8a26" fill-opacity="0.6"/>
<circle cx="411.48" cy="215.40" r="1.2" fill="#cc2e2e" fill-opacity="0.85"/>
<circle cx="411.48" cy="217.40" r="1.2" fill="#cc2e2e" fill-opacity="0.85"/>
<circle cx="411.48" cy="219.40" r="1.2" fill="#cc2e2e" fill-opacity="0.85"/>
<circle cx="411.48" cy="221.40" r="1.2" fill="#cc2e2e" fill-opacity="0.85"/>
<circle cx="411.48" cy="223.40" r="1.2" fill="#cc2e2e" fill-opacity="0.85"/>
<circle cx="411.48" cy="225.40" r="1.2" fill="#cc2e2e" fill-opacity="0.85"/>
<circle cx="411.48" cy="227.40" r="1.2" fill="#cc2e2e" fill-opacity="0.85"/>
<circle cx="411.48" cy="229.40" r="1.2" fill="#cc2e2e" fill-opacity="0.85"/>
<circle cx="411.48" cy="231.40" r="1.2" fill="#cc2e2e" fill-opacity="0.85"/>
<circle cx="411.48" cy="233.40" r="1.2" fill="#cc2e2e" fill-opacity="0.85"/>
<circle cx="411.48" cy="235.40" r="1.2" fill="#cc2e2e" fill-opacity="0.85"/>
<circle cx="411.48" cy="237.40" r="1.2" fill="#cc2e2e" fill-opacity="0.85"/>
<circle cx="411.48" cy="239.40" r="1.2" fill="#cc2e2e" fill-opacity="0.85"/>
<circle cx="411.48" cy="241.40" r="1.2" fill="#cc2e2e" fill-opacity="0.85"/>
<circle cx="411.48" cy="244.20" r="1.2" fill="#cc2e2e" fill-opacity="0.85"/>
<circle cx="411.48" cy="249.70" r="1.2" fill="#cc2e2e" fill-opacity="0.85"/>
<circle cx="411.48" cy="253.70" r="1.2" fill="#cc2e2e" fill-opacity="0.85"/>
<circle cx="420.87" cy="212.00" r="1.2" fill="#cc2e2e" fill-opacity="0.7"/>
<circle cx="420.87" cy="213.50" r="1.2" fill="#cc2e2e" fill-opacity="0.7"/>
<circle cx="420.87" cy="215.00" r="1.2" fill="#cc2e2e" fill-opacity="0.7"/>
<circle cx="420.87" cy="217.00" r="1.2" fill="#cc2e2e" fill-opacity="0.7"/>
<circle cx="420.87" cy="219.00" r="1.2" fill="#cc2e2e" fill-opacity="0.7"/>
<circle cx="420.87" cy="221.00" r="1.2" fill="#cc2e2e" fill-opacity="0.7"/>
<circle cx="420.87" cy="223.00" r="1.2" fill="#cc2e2e" fill-opacity="0.7"/>
<circle cx="420.87" cy="225.00" r="1.2" fill="#cc2e2e" fill-opacity="0.7"/>
<circle cx="420.87" cy="227.00" r="1.2" fill="#cc2e2e" fill-opacity="0.7"/>
<circle cx="420.87" cy="229.00" r="1.2" fill="#cc2e2e" fill-opacity="0.7"/>
<circle cx="420.87" cy="231.00" r="1.2" fill="#cc2e2e" fill-opacity="0.7"/>
<circle cx="420.87" cy="233.00" r="1.2" fill="#cc2e2e" fill-opacity="0.7"/>
<circle cx="420.87" cy="235.00" r="1.2" fill="#cc2e2e" fill-opacity="0.7"/>
<circle cx="420.87" cy="237.50" r="1.2" fill="#cc2e2e" fill-opacity="0.7"/>
<circle cx="420.87" cy="240.00" r="1.2" fill="#cc2e2e" fill-opacity="0.7"/>
<circle cx="420.87" cy="242.00" r="1.2" fill="#cc2e2e" fill-opacity="0.7"/>
<circle cx="420.87" cy="259.30" r="1.2" fill="#cc2e2e" fill-opacity="0.7"/>
<circle cx="430.26" cy="199.70" r="1.2" fill="#cc2e2e" fill-opacity="0.7"/>
<circle cx="430.26" cy="209.00" r="1.2" fill="#cc2e2e" fill-opacity="0.7"/>
<circle cx="430.26" cy="213.00" r="1.2" fill="#cc2e2e" fill-opacity="0.7"/>
<circle cx="430.26" cy="216.00" r="1.2" fill="#cc2e2e" fill-opacity="0.7"/>
<circle cx="430.26" cy="219.00" r="1.2" fill="#cc2e2e" fill-opacity="0.7"/>
<circle cx="430.26" cy="222.00" r="1.2" fill="#cc2e2e" fill-opacity="0.7"/>
<circle cx="430.26" cy="227.00" r="1.2" fill="#cc2e2e" fill-opacity="0.7"/>
<circle cx="430.26" cy="230.00" r="1.2" fill="#cc2e2e" fill-opacity="0.7"/>
<circle cx="430.26" cy="233.00" r="1.2" fill="#cc2e2e" fill-opacity="0.7"/>
<circle cx="430.26" cy="237.20" r="1.2" fill="#cc2e2e" fill-opacity="0.7"/>
<circle cx="439.65" cy="202.40" r="1.2" fill="#cc2e2e" fill-opacity="0.7"/>
<circle cx="439.65" cy="208.00" r="1.2" fill="#cc2e2e" fill-opacity="0.7"/>
<circle cx="439.65" cy="213.00" r="1.2" fill="#cc2e2e" fill-opacity="0.7"/>
<circle cx="439.65" cy="217.00" r="1.2" fill="#cc2e2e" fill-opacity="0.7"/>
<circle cx="439.65" cy="221.00" r="1.2" fill="#cc2e2e" fill-opacity="0.7"/>
<circle cx="439.65" cy="224.50" r="1.2" fill="#cc2e2e" fill-opacity="0.7"/>
<circle cx="439.65" cy="227.80" r="1.2" fill="#cc2e2e" fill-opacity="0.7"/>
<circle cx="449.04" cy="199.00" r="1.2" fill="#cc2e2e" fill-opacity="0.7"/>
<circle cx="449.04" cy="206.00" r="1.2" fill="#cc2e2e" fill-opacity="0.7"/>
<circle cx="449.04" cy="210.00" r="1.2" fill="#cc2e2e" fill-opacity="0.7"/>
<circle cx="449.04" cy="213.70" r="1.2" fill="#cc2e2e" fill-opacity="0.7"/>
<circle cx="449.04" cy="219.00" r="1.2" fill="#cc2e2e" fill-opacity="0.7"/>
<circle cx="449.04" cy="225.00" r="1.2" fill="#cc2e2e" fill-opacity="0.7"/>
<circle cx="449.04" cy="234.40" r="1.2" fill="#cc2e2e" fill-opacity="0.7"/>
<circle cx="458.43" cy="206.00" r="1.2" fill="#cc2e2e" fill-opacity="0.7"/>
<circle cx="458.43" cy="213.50" r="1.2" fill="#cc2e2e" fill-opacity="0.7"/>
<circle cx="458.43" cy="215.50" r="1.2" fill="#cc2e2e" fill-opacity="0.7"/>
<circle cx="458.43" cy="217.50" r="1.2" fill="#cc2e2e" fill-opacity="0.7"/>
<circle cx="458.43" cy="220.00" r="1.2" fill="#cc2e2e" fill-opacity="0.7"/>
<circle cx="477.21" cy="205.70" r="1.2" fill="#cc2e2e" fill-opacity="0.7"/>
<circle cx="486.60" cy="202.60" r="1.2" fill="#cc2e2e" fill-opacity="0.7"/>
<circle cx="495.99" cy="193.00" r="1.2" fill="#cc2e2e" fill-opacity="0.7"/>
<circle cx="495.99" cy="200.00" r="1.2" fill="#cc2e2e" fill-opacity="0.7"/>
<circle cx="514.77" cy="200.80" r="1.2" fill="#cc2e2e" fill-opacity="0.7"/>
<polyline points="392.70,255.83 397.39,250.13 402.09,244.10 406.78,237.40 411.48,231.37 420.87,221.66 430.26,214.96 439.65,210.60 449.04,207.59 458.43,205.24 467.82,203.23 477.21,201.56 486.60,200.22 495.99,198.88 505.38,197.87 512.42,197.20" fill="none" stroke="#6e6e6e" stroke-width="1.5"/>
<polyline points="392.70,255.16 397.39,248.46 402.09,242.09 406.78,235.06 411.48,228.02 420.87,217.30 430.26,209.60 439.65,204.57 449.04,201.22 458.43,198.21 467.82,195.19 477.21,191.84 486.60,188.49 495.99,184.81 505.38,181.12 512.42,177.77" fill="none" stroke="#222" stroke-width="1.3" stroke-dasharray="1.2 1.8"/>
<polyline points="392.70,256.50 397.39,251.81 402.09,245.78 406.78,239.75 411.48,234.72 420.87,226.35 430.26,220.65 439.65,216.97 449.04,214.62 458.43,212.95 467.82,211.94 477.21,211.61 486.60,212.28 495.99,213.62 505.38,215.29 512.42,216.63" fill="none" stroke="#222" stroke-width="1.3" stroke-dasharray="1.2 1.8"/>
<path d="M475.9,261.2 L497.10,261.20 A21.2,21.2 0 1 1 455.52,255.36 Z" fill="#2469c3" stroke="#111" stroke-width="1.1"/>
<path d="M475.9,261.2 L455.52,255.36 A21.2,21.2 0 0 1 479.40,240.29 Z" fill="#f0861f" stroke="#111" stroke-width="1.1"/>
<path d="M475.9,261.2 L479.40,240.29 A21.2,21.2 0 0 1 497.10,261.20 Z" fill="#e32b2b" stroke="#111" stroke-width="1.1"/>
<text x="461.90" y="243.80" font-size="8.5" text-anchor="middle" fill="#111">1</text>
<text x="499.80" y="249.60" font-size="8.5" text-anchor="middle" fill="#111">2+</text>
<text x="471.00" y="291.20" font-size="8.5" text-anchor="middle" fill="#111">0</text>
<rect x="387.0" y="171.5" width="130.79999999999995" height="129.10000000000002" fill="none" stroke="#1a1a1a" stroke-width="1"/>
<line x1="384.5" y1="277.60" x2="387.0" y2="277.60" stroke="#1a1a1a" stroke-width="1"/>
<text x="383.60" y="279.90" font-size="6.6" text-anchor="end" fill="#1a1a1a">0</text>
<line x1="384.5" y1="244.10" x2="387.0" y2="244.10" stroke="#1a1a1a" stroke-width="1"/>
<text x="383.60" y="246.40" font-size="6.6" text-anchor="end" fill="#1a1a1a">1</text>
<line x1="384.5" y1="210.60" x2="387.0" y2="210.60" stroke="#1a1a1a" stroke-width="1"/>
<text x="383.60" y="212.90" font-size="6.6" text-anchor="end" fill="#1a1a1a">2</text>
<line x1="384.5" y1="177.10" x2="387.0" y2="177.10" stroke="#1a1a1a" stroke-width="1"/>
<text x="383.60" y="179.40" font-size="6.6" text-anchor="end" fill="#1a1a1a">3</text>
<line x1="392.70" y1="300.6" x2="392.70" y2="303.1" stroke="#1a1a1a" stroke-width="1"/>
<text x="392.70" y="308.70" font-size="6.6" text-anchor="middle" fill="#1a1a1a">0</text>
<line x1="402.09" y1="300.6" x2="402.09" y2="303.1" stroke="#1a1a1a" stroke-width="1"/>
<text x="402.09" y="308.70" font-size="6.6" text-anchor="middle" fill="#1a1a1a">1</text>
<line x1="411.48" y1="300.6" x2="411.48" y2="303.1" stroke="#1a1a1a" stroke-width="1"/>
<text x="411.48" y="308.70" font-size="6.6" text-anchor="middle" fill="#1a1a1a">2</text>
<line x1="439.65" y1="300.6" x2="439.65" y2="303.1" stroke="#1a1a1a" stroke-width="1"/>
<text x="439.65" y="308.70" font-size="6.6" text-anchor="middle" fill="#1a1a1a">5</text>
<line x1="486.60" y1="300.6" x2="486.60" y2="303.1" stroke="#1a1a1a" stroke-width="1"/>
<text x="486.60" y="308.70" font-size="6.6" text-anchor="middle" fill="#1a1a1a">10</text>
<text x="452.40" y="316.20" font-size="6.2" text-anchor="middle" fill="#1a1a1a">Altered gene numbers</text>
<text x="371.7" y="236.2" font-size="6.5" text-anchor="middle" fill="#1a1a1a" transform="rotate(-90 371.7 236.2)">log<tspan font-size="4.6" dy="1.6">10</tspan><tspan dy="-1.6"> (Tumor mutational burden)</tspan></text>
<text x="1.20" y="335.40" font-size="12.5" font-weight="bold" fill="#000">E</text>
<text x="25.40" y="329.90" font-size="7.2" fill="#111">Mixed Allen 2018</text>
<clipPath id="c25_333"><rect x="25.1" y="333.7" width="131.1" height="125.80000000000001"/></clipPath>
<path d="M31.80,339.80H34.90V341.00H36.20V344.80H36.80V347.30H37.40V349.80H38.05V352.35H38.70V354.90H39.90V358.60H41.20V362.40H43.10V364.30H45.60V365.60H47.50V368.70H50.00V370.00H52.30V372.00H54.40V373.10H56.90V374.80H59.50V378.10H60.85V380.45H62.20V382.80H64.90V386.00H68.30V388.20H70.30V390.20H71.60V393.60H74.30V395.60H76.65V395.90H79.00V396.20H81.70V396.90H82.17V399.43H82.63V401.97H83.10V404.50H85.80V404.75H88.50V405.00H95.90V405.00H97.20V408.40H99.55V408.70H101.90V409.00H102.60V411.80H103.30V414.60H141.00V414.60" fill="none" stroke="#d7282d" stroke-width="2.2" stroke-linejoin="miter" clip-path="url(#c25_333)"/>
<line x1="88.00" y1="403.60" x2="88.00" y2="406.40" stroke="#d7282d" stroke-width="0.8" clip-path="url(#c25_333)"/>
<line x1="93.00" y1="403.60" x2="93.00" y2="406.40" stroke="#d7282d" stroke-width="0.8" clip-path="url(#c25_333)"/>
<line x1="110.00" y1="413.20" x2="110.00" y2="416.00" stroke="#d7282d" stroke-width="0.8" clip-path="url(#c25_333)"/>
<line x1="120.00" y1="413.20" x2="120.00" y2="416.00" stroke="#d7282d" stroke-width="0.8" clip-path="url(#c25_333)"/>
<line x1="128.00" y1="413.20" x2="128.00" y2="416.00" stroke="#d7282d" stroke-width="0.8" clip-path="url(#c25_333)"/>
<line x1="137.00" y1="413.20" x2="137.00" y2="416.00" stroke="#d7282d" stroke-width="0.8" clip-path="url(#c25_333)"/>
<path d="M31.80,339.80H33.70V342.30H34.30V345.45H34.90V348.60H35.33V351.10H35.77V353.60H36.20V356.10H36.80V359.25H37.40V362.40H38.05V365.55H38.70V368.70H39.90V372.50H40.85V375.00H41.80V377.50H42.75V380.65H43.70V383.80H44.35V386.30H45.00V388.80H45.60V391.35H46.20V393.90H48.10V397.60H50.80V399.60H53.50V402.30H56.80V404.30H60.20V405.70H63.60V408.40H66.90V410.40H70.30V411.70H73.60V413.10H76.30V414.40H78.40V418.20H156.20V418.20" fill="none" stroke="#1b58a4" stroke-width="2.2" stroke-linejoin="miter" clip-path="url(#c25_333)"/>
<line x1="85.00" y1="416.80" x2="85.00" y2="419.60" stroke="#1b58a4" stroke-width="0.8" clip-path="url(#c25_333)"/>
<line x1="92.00" y1="416.80" x2="92.00" y2="419.60" stroke="#1b58a4" stroke-width="0.8" clip-path="url(#c25_333)"/>
<line x1="100.00" y1="416.80" x2="100.00" y2="419.60" stroke="#1b58a4" stroke-width="0.8" clip-path="url(#c25_333)"/>
<line x1="128.00" y1="416.80" x2="128.00" y2="419.60" stroke="#1b58a4" stroke-width="0.8" clip-path="url(#c25_333)"/>
<line x1="150.00" y1="416.80" x2="150.00" y2="419.60" stroke="#1b58a4" stroke-width="0.8" clip-path="url(#c25_333)"/>
<rect x="25.1" y="333.7" width="131.1" height="125.80000000000001" fill="none" stroke="#1a1a1a" stroke-width="1"/>
<line x1="22.6" y1="454.30" x2="25.1" y2="454.30" stroke="#1a1a1a" stroke-width="1.1"/>
<text x="21.80" y="456.60" font-size="6.6" text-anchor="end" fill="#1a1a1a">0.0</text>
<line x1="22.6" y1="431.42" x2="25.1" y2="431.42" stroke="#1a1a1a" stroke-width="1.1"/>
<text x="21.80" y="433.72" font-size="6.6" text-anchor="end" fill="#1a1a1a">0.2</text>
<line x1="22.6" y1="408.54" x2="25.1" y2="408.54" stroke="#1a1a1a" stroke-width="1.1"/>
<text x="21.80" y="410.84" font-size="6.6" text-anchor="end" fill="#1a1a1a">0.4</text>
<line x1="22.6" y1="385.66" x2="25.1" y2="385.66" stroke="#1a1a1a" stroke-width="1.1"/>
<text x="21.80" y="387.96" font-size="6.6" text-anchor="end" fill="#1a1a1a">0.6</text>
<line x1="22.6" y1="362.78" x2="25.1" y2="362.78" stroke="#1a1a1a" stroke-width="1.1"/>
<text x="21.80" y="365.08" font-size="6.6" text-anchor="end" fill="#1a1a1a">0.8</text>
<line x1="22.6" y1="339.90" x2="25.1" y2="339.90" stroke="#1a1a1a" stroke-width="1.1"/>
<text x="21.80" y="342.20" font-size="6.6" text-anchor="end" fill="#1a1a1a">1.0</text>
<line x1="31.20" y1="459.5" x2="31.20" y2="462.0" stroke="#1a1a1a" stroke-width="1.1"/>
<text x="31.20" y="467.50" font-size="6.6" text-anchor="middle" fill="#1a1a1a">0</text>
<line x1="61.00" y1="459.5" x2="61.00" y2="462.0" stroke="#1a1a1a" stroke-width="1.1"/>
<text x="61.00" y="467.50" font-size="6.6" text-anchor="middle" fill="#1a1a1a">20</text>
<line x1="90.80" y1="459.5" x2="90.80" y2="462.0" stroke="#1a1a1a" stroke-width="1.1"/>
<text x="90.80" y="467.50" font-size="6.6" text-anchor="middle" fill="#1a1a1a">40</text>
<line x1="120.60" y1="459.5" x2="120.60" y2="462.0" stroke="#1a1a1a" stroke-width="1.1"/>
<text x="120.60" y="467.50" font-size="6.6" text-anchor="middle" fill="#1a1a1a">60</text>
<line x1="150.40" y1="459.5" x2="150.40" y2="462.0" stroke="#1a1a1a" stroke-width="1.1"/>
<text x="150.40" y="467.50" font-size="6.6" text-anchor="middle" fill="#1a1a1a">80</text>
<text x="90.65" y="474.30" font-size="6.6" text-anchor="middle" fill="#1a1a1a">Overall survival (months)</text>
<text x="6.20" y="396.60" font-size="6.7" text-anchor="middle" fill="#1a1a1a" transform="rotate(-90 6.20 396.60)">Probability of overall survival</text>
<text x="113.80" y="350.60" font-size="6.4" fill="#111">31 genes</text>
<line x1="114.6" y1="358.6" x2="122.1" y2="358.6" stroke="#d7282d" stroke-width="2"/>
<line x1="114.6" y1="368.1" x2="122.1" y2="368.1" stroke="#1b58a4" stroke-width="2"/>
<text x="126.00" y="360.30" font-size="4.7" fill="#1a1a1a">Altered</text>
<text x="126.00" y="369.80" font-size="4.7" fill="#1a1a1a">Unaltered</text>
<text x="30.60" y="428.10" font-size="7" fill="#111">Log-rank</text>
<text x="30.60" y="436.30" font-size="7" fill="#111"><tspan font-style="italic">P</tspan> = 0.025</text>
<text x="31.70" y="449.80" font-size="7" text-anchor="middle" fill="#dc5f5a">69</text>
<text x="31.70" y="456.60" font-size="7" text-anchor="middle" fill="#4680c2">82</text>
<text x="61.50" y="449.80" font-size="7" text-anchor="middle" fill="#dc5f5a">38</text>
<text x="61.50" y="456.60" font-size="7" text-anchor="middle" fill="#4680c2">27</text>
<text x="91.30" y="449.80" font-size="7" text-anchor="middle" fill="#dc5f5a">12</text>
<text x="91.30" y="456.60" font-size="7" text-anchor="middle" fill="#4680c2">5</text>
<text x="121.10" y="449.80" font-size="7" text-anchor="middle" fill="#dc5f5a">4</text>
<text x="121.10" y="456.60" font-size="7" text-anchor="middle" fill="#4680c2">2</text>
<text x="150.90" y="449.80" font-size="7" text-anchor="middle" fill="#dc5f5a">0</text>
<text x="150.90" y="456.60" font-size="7" text-anchor="middle" fill="#4680c2">1</text>
<text x="198.70" y="330.40" font-size="7.2" fill="#111">MEL DFCI 2019</text>
<clipPath id="c198_334"><rect x="198.4" y="334.2" width="131.49999999999997" height="126.0"/></clipPath>
<path d="M205.70,339.80H208.20V339.80H208.80V342.50H209.40V344.75H210.00V347.00H212.00V347.60H213.80V351.40H215.70V353.90H216.65V356.10H217.60V358.30H220.10V358.45H222.60V358.60H223.90V360.20H227.00V361.40H228.30V362.70H229.25V364.90H230.20V367.10H232.10V369.00H234.00V369.60H235.80V373.40H237.70V375.30H240.40V376.20H243.40V377.00H244.70V379.00H246.60V380.40H250.00V381.10H252.00V382.50H254.80V384.50H271.80V384.50H271.95V387.60H272.10V390.70H318.80V390.70" fill="none" stroke="#d7282d" stroke-width="2.2" stroke-linejoin="miter" clip-path="url(#c198_334)"/>
<line x1="260.00" y1="383.10" x2="260.00" y2="385.90" stroke="#d7282d" stroke-width="0.8" clip-path="url(#c198_334)"/>
<line x1="266.00" y1="383.10" x2="266.00" y2="385.90" stroke="#d7282d" stroke-width="0.8" clip-path="url(#c198_334)"/>
<line x1="285.00" y1="389.30" x2="285.00" y2="392.10" stroke="#d7282d" stroke-width="0.8" clip-path="url(#c198_334)"/>
<line x1="296.00" y1="389.30" x2="296.00" y2="392.10" stroke="#d7282d" stroke-width="0.8" clip-path="url(#c198_334)"/>
<line x1="305.00" y1="389.30" x2="305.00" y2="392.10" stroke="#d7282d" stroke-width="0.8" clip-path="url(#c198_334)"/>
<line x1="312.00" y1="389.30" x2="312.00" y2="392.10" stroke="#d7282d" stroke-width="0.8" clip-path="url(#c198_334)"/>
<path d="M205.70,339.80H208.20V341.30H208.50V343.80H208.80V346.30H210.00V349.50H212.00V350.70H213.20V353.90H215.10V356.40H215.75V358.90H216.40V361.40H217.00V364.25H217.60V367.10H218.90V370.20H220.80V372.10H221.70V374.30H222.60V376.50H223.55V379.00H224.50V381.50H226.40V383.40H228.90V385.30H231.40V386.60H233.30V388.50H235.80V389.70H237.70V391.30H238.75V394.05H239.80V396.80H243.20V398.20H246.60V399.50H248.60V402.20H249.65V404.25H250.70V406.30H254.10V407.00H260.20V407.00H261.60V408.40H263.95V408.70H266.30V409.00H267.70V412.50H269.70V415.90H272.50V417.20H272.70V419.70H272.90V422.20H273.10V424.70H280.60V424.70H280.83V427.07H281.07V429.43H281.30V431.80H293.60V431.80" fill="none" stroke="#1b58a4" stroke-width="2.2" stroke-linejoin="miter" clip-path="url(#c198_334)"/>
<line x1="256.00" y1="405.60" x2="256.00" y2="408.40" stroke="#1b58a4" stroke-width="0.8" clip-path="url(#c198_334)"/>
<line x1="263.00" y1="407.60" x2="263.00" y2="410.40" stroke="#1b58a4" stroke-width="0.8" clip-path="url(#c198_334)"/>
<line x1="288.00" y1="430.40" x2="288.00" y2="433.20" stroke="#1b58a4" stroke-width="0.8" clip-path="url(#c198_334)"/>
<line x1="293.00" y1="430.40" x2="293.00" y2="433.20" stroke="#1b58a4" stroke-width="0.8" clip-path="url(#c198_334)"/>
<rect x="198.4" y="334.2" width="131.49999999999997" height="126.0" fill="none" stroke="#1a1a1a" stroke-width="1"/>
<line x1="195.9" y1="454.20" x2="198.4" y2="454.20" stroke="#1a1a1a" stroke-width="1.1"/>
<text x="195.10" y="456.50" font-size="6.6" text-anchor="end" fill="#1a1a1a">0.0</text>
<line x1="195.9" y1="431.34" x2="198.4" y2="431.34" stroke="#1a1a1a" stroke-width="1.1"/>
<text x="195.10" y="433.64" font-size="6.6" text-anchor="end" fill="#1a1a1a">0.2</text>
<line x1="195.9" y1="408.48" x2="198.4" y2="408.48" stroke="#1a1a1a" stroke-width="1.1"/>
<text x="195.10" y="410.78" font-size="6.6" text-anchor="end" fill="#1a1a1a">0.4</text>
<line x1="195.9" y1="385.62" x2="198.4" y2="385.62" stroke="#1a1a1a" stroke-width="1.1"/>
<text x="195.10" y="387.92" font-size="6.6" text-anchor="end" fill="#1a1a1a">0.6</text>
<line x1="195.9" y1="362.76" x2="198.4" y2="362.76" stroke="#1a1a1a" stroke-width="1.1"/>
<text x="195.10" y="365.06" font-size="6.6" text-anchor="end" fill="#1a1a1a">0.8</text>
<line x1="195.9" y1="339.90" x2="198.4" y2="339.90" stroke="#1a1a1a" stroke-width="1.1"/>
<text x="195.10" y="342.20" font-size="6.6" text-anchor="end" fill="#1a1a1a">1.0</text>
<line x1="205.30" y1="460.2" x2="205.30" y2="462.7" stroke="#1a1a1a" stroke-width="1.1"/>
<text x="205.30" y="468.20" font-size="6.6" text-anchor="middle" fill="#1a1a1a">0</text>
<line x1="225.40" y1="460.2" x2="225.40" y2="462.7" stroke="#1a1a1a" stroke-width="1.1"/>
<text x="225.40" y="468.20" font-size="6.6" text-anchor="middle" fill="#1a1a1a">10</text>
<line x1="245.50" y1="460.2" x2="245.50" y2="462.7" stroke="#1a1a1a" stroke-width="1.1"/>
<text x="245.50" y="468.20" font-size="6.6" text-anchor="middle" fill="#1a1a1a">20</text>
<line x1="265.60" y1="460.2" x2="265.60" y2="462.7" stroke="#1a1a1a" stroke-width="1.1"/>
<text x="265.60" y="468.20" font-size="6.6" text-anchor="middle" fill="#1a1a1a">30</text>
<line x1="285.70" y1="460.2" x2="285.70" y2="462.7" stroke="#1a1a1a" stroke-width="1.1"/>
<text x="285.70" y="468.20" font-size="6.6" text-anchor="middle" fill="#1a1a1a">40</text>
<line x1="305.80" y1="460.2" x2="305.80" y2="462.7" stroke="#1a1a1a" stroke-width="1.1"/>
<text x="305.80" y="468.20" font-size="6.6" text-anchor="middle" fill="#1a1a1a">50</text>
<line x1="325.90" y1="460.2" x2="325.90" y2="462.7" stroke="#1a1a1a" stroke-width="1.1"/>
<text x="325.90" y="468.20" font-size="6.6" text-anchor="middle" fill="#1a1a1a">60</text>
<text x="264.15" y="474.50" font-size="6.6" text-anchor="middle" fill="#1a1a1a">Overall survival (months)</text>
<text x="180.40" y="397.20" font-size="6.7" text-anchor="middle" fill="#1a1a1a" transform="rotate(-90 180.40 397.20)">Probability of overall survival</text>
<text x="288.00" y="350.70" font-size="6.4" fill="#111">31 genes</text>
<line x1="288.8" y1="358.7" x2="296.3" y2="358.7" stroke="#d7282d" stroke-width="2"/>
<line x1="288.8" y1="368.2" x2="296.3" y2="368.2" stroke="#1b58a4" stroke-width="2"/>
<text x="300.20" y="360.40" font-size="4.7" fill="#1a1a1a">Altered</text>
<text x="300.20" y="369.90" font-size="4.7" fill="#1a1a1a">Unaltered</text>
<text x="204.70" y="428.00" font-size="7" fill="#111">Log-rank</text>
<text x="204.70" y="436.20" font-size="7" fill="#111"><tspan font-style="italic">P</tspan> = 0.0038</text>
<text x="205.80" y="449.70" font-size="7" text-anchor="middle" fill="#dc5f5a">71</text>
<text x="205.80" y="456.50" font-size="7" text-anchor="middle" fill="#4680c2">73</text>
<text x="225.90" y="449.70" font-size="7" text-anchor="middle" fill="#dc5f5a">54</text>
<text x="225.90" y="456.50" font-size="7" text-anchor="middle" fill="#4680c2">43</text>
<text x="246.00" y="449.70" font-size="7" text-anchor="middle" fill="#dc5f5a">40</text>
<text x="246.00" y="456.50" font-size="7" text-anchor="middle" fill="#4680c2">31</text>
<text x="266.10" y="449.70" font-size="7" text-anchor="middle" fill="#dc5f5a">20</text>
<text x="266.10" y="456.50" font-size="7" text-anchor="middle" fill="#4680c2">15</text>
<text x="286.20" y="449.70" font-size="7" text-anchor="middle" fill="#dc5f5a">9</text>
<text x="286.20" y="456.50" font-size="7" text-anchor="middle" fill="#4680c2">3</text>
<text x="306.30" y="449.70" font-size="7" text-anchor="middle" fill="#dc5f5a">7</text>
<text x="306.30" y="456.50" font-size="7" text-anchor="middle" fill="#4680c2">0</text>
<text x="326.40" y="449.70" font-size="7" text-anchor="middle" fill="#dc5f5a">0</text>
<text x="326.40" y="456.50" font-size="7" text-anchor="middle" fill="#4680c2">0</text>
<text x="387.30" y="330.90" font-size="7.2" fill="#111">SKCM DFCI 2015</text>
<clipPath id="c387_334"><rect x="387.0" y="334.7" width="131.5" height="124.90000000000003"/></clipPath>
<path d="M393.80,339.80H395.70V341.00H397.50V344.80H399.40V348.00H400.70V351.10H401.30V354.90H401.90V358.60H403.80V359.30H404.15V362.10H404.50V364.90H404.80V367.45H405.10V370.00H406.40V373.70H407.60V377.50H408.90V380.70H410.10V383.80H410.70V385.40H411.70V388.10H414.75V388.40H417.80V388.70H418.15V391.10H418.50V393.50H421.20V395.50H421.80V396.80H436.00V396.80H437.30V399.50H440.70V400.20H442.70V402.90H445.40V405.60H446.70V407.60H456.80V407.60H457.03V410.07H457.27V412.53H457.50V415.00H476.60V415.00H476.90V421.80H487.40V421.80H487.60V428.70H511.30V428.70H511.50V436.80H517.50V436.80" fill="none" stroke="#d7282d" stroke-width="2.2" stroke-linejoin="miter" clip-path="url(#c387_334)"/>
<line x1="430.00" y1="395.40" x2="430.00" y2="398.20" stroke="#d7282d" stroke-width="0.8" clip-path="url(#c387_334)"/>
<line x1="451.00" y1="406.20" x2="451.00" y2="409.00" stroke="#d7282d" stroke-width="0.8" clip-path="url(#c387_334)"/>
<line x1="466.00" y1="413.60" x2="466.00" y2="416.40" stroke="#d7282d" stroke-width="0.8" clip-path="url(#c387_334)"/>
<line x1="470.00" y1="413.60" x2="470.00" y2="416.40" stroke="#d7282d" stroke-width="0.8" clip-path="url(#c387_334)"/>
<line x1="480.00" y1="420.40" x2="480.00" y2="423.20" stroke="#d7282d" stroke-width="0.8" clip-path="url(#c387_334)"/>
<line x1="495.00" y1="427.30" x2="495.00" y2="430.10" stroke="#d7282d" stroke-width="0.8" clip-path="url(#c387_334)"/>
<line x1="502.00" y1="427.30" x2="502.00" y2="430.10" stroke="#d7282d" stroke-width="0.8" clip-path="url(#c387_334)"/>
<path d="M393.80,339.80H395.70V342.30H397.50V346.10H398.80V349.80H399.10V352.35H399.40V354.90H399.75V358.05H400.10V361.20H402.00V364.90H402.30V368.05H402.60V371.20H403.20V373.75H403.80V376.30H404.75V379.40H405.70V382.50H407.70V384.00H408.90V386.80H409.65V388.80H410.40V390.80H411.30V393.47H412.20V396.13H413.10V398.80H414.00V401.07H414.90V403.33H415.80V405.60H417.15V408.30H418.50V411.00H421.80V412.30H425.20V413.00H427.90V415.70H430.60V418.40H433.30V420.40H436.60V421.70H440.00V422.40H443.40V423.70H445.75V424.40H448.10V425.10H451.40V426.40H453.50V427.80H456.15V428.15H458.80V428.50H461.50V429.80H518.50V429.80" fill="none" stroke="#1b58a4" stroke-width="2.2" stroke-linejoin="miter" clip-path="url(#c387_334)"/>
<line x1="466.00" y1="428.40" x2="466.00" y2="431.20" stroke="#1b58a4" stroke-width="0.8" clip-path="url(#c387_334)"/>
<line x1="472.00" y1="428.40" x2="472.00" y2="431.20" stroke="#1b58a4" stroke-width="0.8" clip-path="url(#c387_334)"/>
<line x1="476.00" y1="428.40" x2="476.00" y2="431.20" stroke="#1b58a4" stroke-width="0.8" clip-path="url(#c387_334)"/>
<line x1="490.00" y1="428.40" x2="490.00" y2="431.20" stroke="#1b58a4" stroke-width="0.8" clip-path="url(#c387_334)"/>
<line x1="500.00" y1="428.40" x2="500.00" y2="431.20" stroke="#1b58a4" stroke-width="0.8" clip-path="url(#c387_334)"/>
<rect x="387.0" y="334.7" width="131.5" height="124.90000000000003" fill="none" stroke="#1a1a1a" stroke-width="1"/>
<line x1="384.5" y1="454.10" x2="387.0" y2="454.10" stroke="#1a1a1a" stroke-width="1.1"/>
<text x="383.70" y="456.40" font-size="6.6" text-anchor="end" fill="#1a1a1a">0.0</text>
<line x1="384.5" y1="431.26" x2="387.0" y2="431.26" stroke="#1a1a1a" stroke-width="1.1"/>
<text x="383.70" y="433.56" font-size="6.6" text-anchor="end" fill="#1a1a1a">0.2</text>
<line x1="384.5" y1="408.42" x2="387.0" y2="408.42" stroke="#1a1a1a" stroke-width="1.1"/>
<text x="383.70" y="410.72" font-size="6.6" text-anchor="end" fill="#1a1a1a">0.4</text>
<line x1="384.5" y1="385.58" x2="387.0" y2="385.58" stroke="#1a1a1a" stroke-width="1.1"/>
<text x="383.70" y="387.88" font-size="6.6" text-anchor="end" fill="#1a1a1a">0.6</text>
<line x1="384.5" y1="362.74" x2="387.0" y2="362.74" stroke="#1a1a1a" stroke-width="1.1"/>
<text x="383.70" y="365.04" font-size="6.6" text-anchor="end" fill="#1a1a1a">0.8</text>
<line x1="384.5" y1="339.90" x2="387.0" y2="339.90" stroke="#1a1a1a" stroke-width="1.1"/>
<text x="383.70" y="342.20" font-size="6.6" text-anchor="end" fill="#1a1a1a">1.0</text>
<line x1="393.40" y1="459.6" x2="393.40" y2="462.1" stroke="#1a1a1a" stroke-width="1.1"/>
<text x="393.40" y="467.60" font-size="6.6" text-anchor="middle" fill="#1a1a1a">0</text>
<line x1="417.35" y1="459.6" x2="417.35" y2="462.1" stroke="#1a1a1a" stroke-width="1.1"/>
<text x="417.35" y="467.60" font-size="6.6" text-anchor="middle" fill="#1a1a1a">10</text>
<line x1="441.30" y1="459.6" x2="441.30" y2="462.1" stroke="#1a1a1a" stroke-width="1.1"/>
<text x="441.30" y="467.60" font-size="6.6" text-anchor="middle" fill="#1a1a1a">20</text>
<line x1="465.25" y1="459.6" x2="465.25" y2="462.1" stroke="#1a1a1a" stroke-width="1.1"/>
<text x="465.25" y="467.60" font-size="6.6" text-anchor="middle" fill="#1a1a1a">30</text>
<line x1="489.20" y1="459.6" x2="489.20" y2="462.1" stroke="#1a1a1a" stroke-width="1.1"/>
<text x="489.20" y="467.60" font-size="6.6" text-anchor="middle" fill="#1a1a1a">40</text>
<line x1="513.15" y1="459.6" x2="513.15" y2="462.1" stroke="#1a1a1a" stroke-width="1.1"/>
<text x="513.15" y="467.60" font-size="6.6" text-anchor="middle" fill="#1a1a1a">50</text>
<text x="452.75" y="475.40" font-size="6.6" text-anchor="middle" fill="#1a1a1a">Overall survival (months)</text>
<text x="368.50" y="397.15" font-size="6.7" text-anchor="middle" fill="#1a1a1a" transform="rotate(-90 368.50 397.15)">Probability of overall survival</text>
<text x="476.20" y="351.00" font-size="6.4" fill="#111">31 genes</text>
<line x1="477.0" y1="359.0" x2="484.5" y2="359.0" stroke="#d7282d" stroke-width="2"/>
<line x1="477.0" y1="368.5" x2="484.5" y2="368.5" stroke="#1b58a4" stroke-width="2"/>
<text x="488.40" y="360.70" font-size="4.7" fill="#1a1a1a">Altered</text>
<text x="488.40" y="370.20" font-size="4.7" fill="#1a1a1a">Unaltered</text>
<text x="392.80" y="427.90" font-size="7" fill="#111">Log-rank</text>
<text x="392.80" y="436.10" font-size="7" fill="#111"><tspan font-style="italic">P</tspan> = 0.17</text>
<text x="393.90" y="449.60" font-size="7" text-anchor="middle" fill="#dc5f5a">42</text>
<text x="393.90" y="456.40" font-size="7" text-anchor="middle" fill="#4680c2">68</text>
<text x="417.85" y="449.60" font-size="7" text-anchor="middle" fill="#dc5f5a">24</text>
<text x="417.85" y="456.40" font-size="7" text-anchor="middle" fill="#4680c2">28</text>
<text x="441.80" y="449.60" font-size="7" text-anchor="middle" fill="#dc5f5a">20</text>
<text x="441.80" y="456.40" font-size="7" text-anchor="middle" fill="#4680c2">18</text>
<text x="465.75" y="449.60" font-size="7" text-anchor="middle" fill="#dc5f5a">9</text>
<text x="465.75" y="456.40" font-size="7" text-anchor="middle" fill="#4680c2">11</text>
<text x="489.70" y="449.60" font-size="7" text-anchor="middle" fill="#dc5f5a">4</text>
<text x="489.70" y="456.40" font-size="7" text-anchor="middle" fill="#4680c2">2</text>
<text x="513.65" y="449.60" font-size="7" text-anchor="middle" fill="#dc5f5a">1</text>
<text x="513.65" y="456.40" font-size="7" text-anchor="middle" fill="#4680c2">1</text>
</g>
</svg>
</body></html>
